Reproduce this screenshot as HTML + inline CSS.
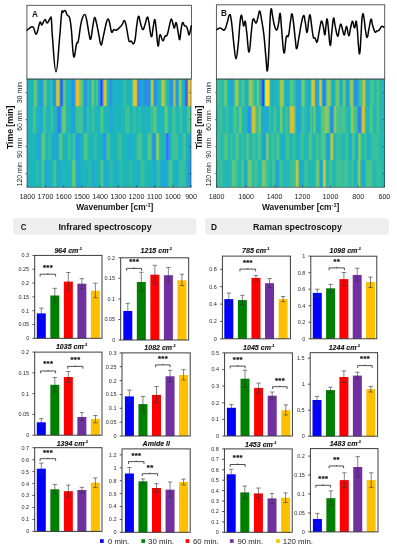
<!DOCTYPE html>
<html lang="en"><head><meta charset="utf-8"><title>Figure</title>
<style>
html,body{margin:0;padding:0;background:#fff;}
body{width:397px;height:550px;overflow:hidden;}
svg{display:block;font-family:'Liberation Sans', sans-serif;}
</style></head>
<body>
<svg width="397" height="550" viewBox="0 0 397 550">
<defs>
<linearGradient id="ga0" gradientUnits="userSpaceOnUse" x1="27" y1="0" x2="191" y2="0"><stop offset="0.0000" stop-color="#1cb6bc"/><stop offset="0.0091" stop-color="#1cb6bc"/><stop offset="0.0183" stop-color="#1cb6bc"/><stop offset="0.0274" stop-color="#1cb6bc"/><stop offset="0.0351" stop-color="#1eb7ba"/><stop offset="0.0381" stop-color="#24b9b1"/><stop offset="0.0457" stop-color="#5fc67d"/><stop offset="0.0488" stop-color="#6ec771"/><stop offset="0.0534" stop-color="#6ec771"/><stop offset="0.0564" stop-color="#5fc67d"/><stop offset="0.0640" stop-color="#24b9b2"/><stop offset="0.0701" stop-color="#1db0c8"/><stop offset="0.0762" stop-color="#259ddf"/><stop offset="0.0808" stop-color="#2898e4"/><stop offset="0.0899" stop-color="#2799e3"/><stop offset="0.0930" stop-color="#259ede"/><stop offset="0.0945" stop-color="#23a3d9"/><stop offset="0.0976" stop-color="#1db0c7"/><stop offset="0.1021" stop-color="#3cc198"/><stop offset="0.1037" stop-color="#4dc58a"/><stop offset="0.1067" stop-color="#68c776"/><stop offset="0.1113" stop-color="#71c770"/><stop offset="0.1143" stop-color="#69c775"/><stop offset="0.1174" stop-color="#50c688"/><stop offset="0.1220" stop-color="#2abca9"/><stop offset="0.1250" stop-color="#20b8b7"/><stop offset="0.1341" stop-color="#1cb6bc"/><stop offset="0.1402" stop-color="#1fb7b8"/><stop offset="0.1479" stop-color="#39c09a"/><stop offset="0.1494" stop-color="#3dc197"/><stop offset="0.1509" stop-color="#3ac099"/><stop offset="0.1524" stop-color="#30bea2"/><stop offset="0.1540" stop-color="#25bab0"/><stop offset="0.1585" stop-color="#24a0dc"/><stop offset="0.1601" stop-color="#2997e5"/><stop offset="0.1616" stop-color="#2c8fe8"/><stop offset="0.1646" stop-color="#2f89eb"/><stop offset="0.1692" stop-color="#2f8beb"/><stop offset="0.1707" stop-color="#2d8ee9"/><stop offset="0.1723" stop-color="#2996e5"/><stop offset="0.1738" stop-color="#24a0dc"/><stop offset="0.1753" stop-color="#1eaecc"/><stop offset="0.1768" stop-color="#26baae"/><stop offset="0.1799" stop-color="#9ac753"/><stop offset="0.1814" stop-color="#cac23a"/><stop offset="0.1829" stop-color="#e1bc33"/><stop offset="0.1845" stop-color="#f0b82f"/><stop offset="0.1860" stop-color="#f4bb2e"/><stop offset="0.1875" stop-color="#f4bd2e"/><stop offset="0.1890" stop-color="#f4bc2e"/><stop offset="0.1905" stop-color="#f1b82e"/><stop offset="0.1921" stop-color="#e4bb32"/><stop offset="0.1936" stop-color="#cfc038"/><stop offset="0.1951" stop-color="#aac54a"/><stop offset="0.2027" stop-color="#2899e3"/><stop offset="0.2043" stop-color="#3284ee"/><stop offset="0.2058" stop-color="#3b6ff2"/><stop offset="0.2073" stop-color="#405cee"/><stop offset="0.2088" stop-color="#4450eb"/><stop offset="0.2104" stop-color="#454be9"/><stop offset="0.2119" stop-color="#454dea"/><stop offset="0.2134" stop-color="#4256ec"/><stop offset="0.2149" stop-color="#3d67f0"/><stop offset="0.2165" stop-color="#357ff1"/><stop offset="0.2210" stop-color="#22b9b4"/><stop offset="0.2226" stop-color="#3bc199"/><stop offset="0.2241" stop-color="#51c686"/><stop offset="0.2256" stop-color="#63c77a"/><stop offset="0.2271" stop-color="#69c775"/><stop offset="0.2287" stop-color="#67c777"/><stop offset="0.2317" stop-color="#50c688"/><stop offset="0.2363" stop-color="#2abca9"/><stop offset="0.2393" stop-color="#20b8b7"/><stop offset="0.2485" stop-color="#1cb6bc"/><stop offset="0.2576" stop-color="#1cb6bc"/><stop offset="0.2652" stop-color="#1cb5be"/><stop offset="0.2683" stop-color="#1db1c6"/><stop offset="0.2744" stop-color="#2898e4"/><stop offset="0.2774" stop-color="#2e8dea"/><stop offset="0.2820" stop-color="#3089ec"/><stop offset="0.2851" stop-color="#2e8dea"/><stop offset="0.2866" stop-color="#2b92e7"/><stop offset="0.2881" stop-color="#2899e3"/><stop offset="0.2912" stop-color="#1fabd1"/><stop offset="0.2942" stop-color="#27bbad"/><stop offset="0.3003" stop-color="#d0c038"/><stop offset="0.3018" stop-color="#e4bb32"/><stop offset="0.3034" stop-color="#f1b82e"/><stop offset="0.3049" stop-color="#f4bc2e"/><stop offset="0.3079" stop-color="#f5be2d"/><stop offset="0.3110" stop-color="#f3bb2e"/><stop offset="0.3125" stop-color="#eeb92f"/><stop offset="0.3140" stop-color="#e2bc33"/><stop offset="0.3186" stop-color="#a6c64c"/><stop offset="0.3201" stop-color="#93c857"/><stop offset="0.3216" stop-color="#83c762"/><stop offset="0.3308" stop-color="#71c76f"/><stop offset="0.3338" stop-color="#69c775"/><stop offset="0.3369" stop-color="#50c688"/><stop offset="0.3460" stop-color="#1db0c9"/><stop offset="0.3506" stop-color="#259ede"/><stop offset="0.3537" stop-color="#2996e5"/><stop offset="0.3582" stop-color="#2b92e7"/><stop offset="0.3613" stop-color="#2a95e6"/><stop offset="0.3628" stop-color="#2898e4"/><stop offset="0.3643" stop-color="#259ddf"/><stop offset="0.3659" stop-color="#21a5d7"/><stop offset="0.3704" stop-color="#26baaf"/><stop offset="0.3720" stop-color="#2ebda5"/><stop offset="0.3735" stop-color="#30bea2"/><stop offset="0.3750" stop-color="#2cbda7"/><stop offset="0.3811" stop-color="#1eaecc"/><stop offset="0.3826" stop-color="#1eacd0"/><stop offset="0.3841" stop-color="#1fabd1"/><stop offset="0.3857" stop-color="#1eacd0"/><stop offset="0.3872" stop-color="#1eaecb"/><stop offset="0.3902" stop-color="#1fb7b8"/><stop offset="0.3948" stop-color="#4dc58a"/><stop offset="0.3963" stop-color="#5cc67e"/><stop offset="0.3994" stop-color="#6ec771"/><stop offset="0.4040" stop-color="#6ec771"/><stop offset="0.4070" stop-color="#5fc67d"/><stop offset="0.4131" stop-color="#2bbca9"/><stop offset="0.4146" stop-color="#25bab0"/><stop offset="0.4162" stop-color="#22b8b4"/><stop offset="0.4177" stop-color="#22b8b4"/><stop offset="0.4192" stop-color="#25bab0"/><stop offset="0.4253" stop-color="#4ec58a"/><stop offset="0.4268" stop-color="#55c684"/><stop offset="0.4284" stop-color="#52c686"/><stop offset="0.4299" stop-color="#47c38f"/><stop offset="0.4314" stop-color="#32bea1"/><stop offset="0.4360" stop-color="#22a4d8"/><stop offset="0.4375" stop-color="#279ae2"/><stop offset="0.4390" stop-color="#2a94e6"/><stop offset="0.4436" stop-color="#2d8de9"/><stop offset="0.4451" stop-color="#3187ed"/><stop offset="0.4466" stop-color="#367cf2"/><stop offset="0.4497" stop-color="#4255ec"/><stop offset="0.4512" stop-color="#4345df"/><stop offset="0.4527" stop-color="#413cd2"/><stop offset="0.4543" stop-color="#4039ce"/><stop offset="0.4558" stop-color="#413dd3"/><stop offset="0.4573" stop-color="#4447e3"/><stop offset="0.4588" stop-color="#405cee"/><stop offset="0.4604" stop-color="#3878f4"/><stop offset="0.4695" stop-color="#a9c64b"/><stop offset="0.4710" stop-color="#cfc038"/><stop offset="0.4726" stop-color="#e4bb32"/><stop offset="0.4741" stop-color="#f1b82e"/><stop offset="0.4756" stop-color="#f3bb2e"/><stop offset="0.4771" stop-color="#f3bb2e"/><stop offset="0.4787" stop-color="#f1b82e"/><stop offset="0.4802" stop-color="#e4bb32"/><stop offset="0.4817" stop-color="#d0c038"/><stop offset="0.4863" stop-color="#4dc58a"/><stop offset="0.4878" stop-color="#32bea0"/><stop offset="0.4893" stop-color="#27baae"/><stop offset="0.4909" stop-color="#21b8b6"/><stop offset="0.4970" stop-color="#1cb4c0"/><stop offset="0.5000" stop-color="#1dafca"/><stop offset="0.5046" stop-color="#259ede"/><stop offset="0.5076" stop-color="#2996e5"/><stop offset="0.5122" stop-color="#2b92e7"/><stop offset="0.5152" stop-color="#2996e5"/><stop offset="0.5183" stop-color="#259ede"/><stop offset="0.5229" stop-color="#1dafca"/><stop offset="0.5259" stop-color="#1cb4c0"/><stop offset="0.5351" stop-color="#1cb6bc"/><stop offset="0.5442" stop-color="#1cb6bc"/><stop offset="0.5503" stop-color="#1cb4c1"/><stop offset="0.5579" stop-color="#20a9d3"/><stop offset="0.5610" stop-color="#20a9d3"/><stop offset="0.5686" stop-color="#1cb4c1"/><stop offset="0.5777" stop-color="#1cb6bc"/><stop offset="0.5854" stop-color="#1fb7b8"/><stop offset="0.5930" stop-color="#39c09a"/><stop offset="0.5960" stop-color="#3ec197"/><stop offset="0.6037" stop-color="#22b8b5"/><stop offset="0.6128" stop-color="#1cb6bc"/><stop offset="0.6220" stop-color="#1cb6bc"/><stop offset="0.6311" stop-color="#1cb6bc"/><stop offset="0.6372" stop-color="#1eb7ba"/><stop offset="0.6387" stop-color="#21b8b6"/><stop offset="0.6402" stop-color="#27baae"/><stop offset="0.6418" stop-color="#32bea0"/><stop offset="0.6433" stop-color="#4dc58a"/><stop offset="0.6479" stop-color="#d0c038"/><stop offset="0.6494" stop-color="#e4bb32"/><stop offset="0.6509" stop-color="#f1b82e"/><stop offset="0.6524" stop-color="#f4bc2e"/><stop offset="0.6601" stop-color="#f5bf2d"/><stop offset="0.6631" stop-color="#f4bb2e"/><stop offset="0.6646" stop-color="#efb92f"/><stop offset="0.6662" stop-color="#e0bc33"/><stop offset="0.6677" stop-color="#c9c23a"/><stop offset="0.6692" stop-color="#99c753"/><stop offset="0.6723" stop-color="#27baae"/><stop offset="0.6738" stop-color="#1eaecb"/><stop offset="0.6753" stop-color="#24a1db"/><stop offset="0.6768" stop-color="#2897e4"/><stop offset="0.6784" stop-color="#2c90e8"/><stop offset="0.6829" stop-color="#2e8bea"/><stop offset="0.6890" stop-color="#2c90e8"/><stop offset="0.6966" stop-color="#23a1db"/><stop offset="0.7043" stop-color="#22a4d8"/><stop offset="0.7088" stop-color="#249fdd"/><stop offset="0.7149" stop-color="#2b92e7"/><stop offset="0.7241" stop-color="#2d8ee9"/><stop offset="0.7332" stop-color="#2d8ee9"/><stop offset="0.7424" stop-color="#2d8fe9"/><stop offset="0.7454" stop-color="#2c91e8"/><stop offset="0.7470" stop-color="#2a94e6"/><stop offset="0.7485" stop-color="#279ae2"/><stop offset="0.7500" stop-color="#23a2da"/><stop offset="0.7515" stop-color="#1eadce"/><stop offset="0.7561" stop-color="#67c777"/><stop offset="0.7576" stop-color="#95c855"/><stop offset="0.7591" stop-color="#b0c547"/><stop offset="0.7607" stop-color="#c1c33e"/><stop offset="0.7622" stop-color="#c8c23a"/><stop offset="0.7637" stop-color="#c8c23a"/><stop offset="0.7652" stop-color="#c1c33e"/><stop offset="0.7668" stop-color="#b0c547"/><stop offset="0.7683" stop-color="#94c856"/><stop offset="0.7698" stop-color="#64c779"/><stop offset="0.7744" stop-color="#1fabd1"/><stop offset="0.7759" stop-color="#259ede"/><stop offset="0.7774" stop-color="#2a95e6"/><stop offset="0.7790" stop-color="#2d8ee9"/><stop offset="0.7820" stop-color="#2f89eb"/><stop offset="0.7851" stop-color="#2f8aeb"/><stop offset="0.7881" stop-color="#2b91e7"/><stop offset="0.7942" stop-color="#1eadcd"/><stop offset="0.7973" stop-color="#1cb4c1"/><stop offset="0.8064" stop-color="#1cb6bc"/><stop offset="0.8125" stop-color="#1fb7b8"/><stop offset="0.8140" stop-color="#24b9b2"/><stop offset="0.8155" stop-color="#2bbca8"/><stop offset="0.8171" stop-color="#3bc199"/><stop offset="0.8216" stop-color="#9ec751"/><stop offset="0.8232" stop-color="#b4c445"/><stop offset="0.8247" stop-color="#c3c33d"/><stop offset="0.8262" stop-color="#c9c23a"/><stop offset="0.8293" stop-color="#c9c23a"/><stop offset="0.8323" stop-color="#bac442"/><stop offset="0.8384" stop-color="#84c862"/><stop offset="0.8445" stop-color="#5fc67d"/><stop offset="0.8521" stop-color="#24b9b1"/><stop offset="0.8552" stop-color="#1eb7ba"/><stop offset="0.8643" stop-color="#1cb5be"/><stop offset="0.8674" stop-color="#1db1c6"/><stop offset="0.8735" stop-color="#2898e4"/><stop offset="0.8765" stop-color="#2e8dea"/><stop offset="0.8796" stop-color="#3089ec"/><stop offset="0.8826" stop-color="#2f8aeb"/><stop offset="0.8841" stop-color="#2d8ee9"/><stop offset="0.8857" stop-color="#2a94e6"/><stop offset="0.8872" stop-color="#259ede"/><stop offset="0.8887" stop-color="#1faad2"/><stop offset="0.8933" stop-color="#5ac680"/><stop offset="0.8948" stop-color="#88c85f"/><stop offset="0.8963" stop-color="#a4c64d"/><stop offset="0.8979" stop-color="#b3c445"/><stop offset="0.8994" stop-color="#b7c443"/><stop offset="0.9009" stop-color="#b0c547"/><stop offset="0.9024" stop-color="#9fc750"/><stop offset="0.9040" stop-color="#7cc768"/><stop offset="0.9055" stop-color="#4bc48c"/><stop offset="0.9085" stop-color="#1db0c8"/><stop offset="0.9101" stop-color="#22a3d9"/><stop offset="0.9116" stop-color="#2898e4"/><stop offset="0.9131" stop-color="#2c90e8"/><stop offset="0.9146" stop-color="#2e8cea"/><stop offset="0.9162" stop-color="#2e8bea"/><stop offset="0.9177" stop-color="#2d8ee9"/><stop offset="0.9192" stop-color="#2a94e6"/><stop offset="0.9207" stop-color="#269ddf"/><stop offset="0.9223" stop-color="#20a8d4"/><stop offset="0.9268" stop-color="#47c38f"/><stop offset="0.9284" stop-color="#6ac774"/><stop offset="0.9299" stop-color="#86c860"/><stop offset="0.9314" stop-color="#97c854"/><stop offset="0.9329" stop-color="#9dc751"/><stop offset="0.9345" stop-color="#9dc751"/><stop offset="0.9360" stop-color="#98c754"/><stop offset="0.9375" stop-color="#8cc85c"/><stop offset="0.9405" stop-color="#5bc680"/><stop offset="0.9436" stop-color="#31bea2"/><stop offset="0.9451" stop-color="#28bbad"/><stop offset="0.9482" stop-color="#1fb7b9"/><stop offset="0.9558" stop-color="#1cb4c0"/><stop offset="0.9573" stop-color="#1db2c4"/><stop offset="0.9588" stop-color="#1eaecd"/><stop offset="0.9604" stop-color="#21a5d7"/><stop offset="0.9649" stop-color="#377af3"/><stop offset="0.9665" stop-color="#3c6bf1"/><stop offset="0.9680" stop-color="#3f60ef"/><stop offset="0.9695" stop-color="#415aed"/><stop offset="0.9710" stop-color="#4159ed"/><stop offset="0.9726" stop-color="#415bed"/><stop offset="0.9741" stop-color="#3e62ef"/><stop offset="0.9756" stop-color="#3a72f3"/><stop offset="0.9771" stop-color="#3186ed"/><stop offset="0.9787" stop-color="#249fdd"/><stop offset="0.9802" stop-color="#1cb5bd"/><stop offset="0.9832" stop-color="#a7c64c"/><stop offset="0.9848" stop-color="#dbbd35"/><stop offset="0.9863" stop-color="#f4bc2e"/><stop offset="0.9878" stop-color="#f9c72d"/><stop offset="0.9893" stop-color="#fccd2c"/><stop offset="0.9924" stop-color="#fbd329"/><stop offset="1.0000" stop-color="#fbd329"/></linearGradient>
<linearGradient id="ga1" gradientUnits="userSpaceOnUse" x1="27" y1="0" x2="191" y2="0"><stop offset="0.0000" stop-color="#1cb6bc"/><stop offset="0.0091" stop-color="#1cb6bc"/><stop offset="0.0183" stop-color="#1cb6bc"/><stop offset="0.0274" stop-color="#1cb6bb"/><stop offset="0.0320" stop-color="#22b8b5"/><stop offset="0.0396" stop-color="#43c293"/><stop offset="0.0457" stop-color="#4bc48c"/><stop offset="0.0503" stop-color="#43c293"/><stop offset="0.0579" stop-color="#22b8b5"/><stop offset="0.0671" stop-color="#1cb5be"/><stop offset="0.0762" stop-color="#20a9d3"/><stop offset="0.0854" stop-color="#21a6d6"/><stop offset="0.0899" stop-color="#1faad2"/><stop offset="0.0930" stop-color="#1db1c7"/><stop offset="0.0991" stop-color="#38c09c"/><stop offset="0.1021" stop-color="#47c38f"/><stop offset="0.1082" stop-color="#4ac48c"/><stop offset="0.1113" stop-color="#43c293"/><stop offset="0.1189" stop-color="#22b8b5"/><stop offset="0.1280" stop-color="#1cb6bc"/><stop offset="0.1372" stop-color="#1cb6bb"/><stop offset="0.1418" stop-color="#22b8b5"/><stop offset="0.1494" stop-color="#42c293"/><stop offset="0.1524" stop-color="#45c390"/><stop offset="0.1555" stop-color="#3bc199"/><stop offset="0.1616" stop-color="#22b8b5"/><stop offset="0.1707" stop-color="#1cb6bc"/><stop offset="0.1768" stop-color="#1cb5bf"/><stop offset="0.1799" stop-color="#1db0c8"/><stop offset="0.1829" stop-color="#22a3d9"/><stop offset="0.1860" stop-color="#2c90e8"/><stop offset="0.1875" stop-color="#3087ec"/><stop offset="0.1905" stop-color="#357ef1"/><stop offset="0.1982" stop-color="#367df2"/><stop offset="0.2012" stop-color="#3382ef"/><stop offset="0.2027" stop-color="#3087ec"/><stop offset="0.2043" stop-color="#2c90e8"/><stop offset="0.2119" stop-color="#2cbda7"/><stop offset="0.2149" stop-color="#4ec589"/><stop offset="0.2180" stop-color="#69c776"/><stop offset="0.2271" stop-color="#72c76e"/><stop offset="0.2317" stop-color="#69c775"/><stop offset="0.2348" stop-color="#50c688"/><stop offset="0.2393" stop-color="#2abca9"/><stop offset="0.2424" stop-color="#20b8b7"/><stop offset="0.2515" stop-color="#1cb6bc"/><stop offset="0.2607" stop-color="#1cb5bd"/><stop offset="0.2652" stop-color="#1db1c5"/><stop offset="0.2713" stop-color="#22a5d7"/><stop offset="0.2805" stop-color="#24a1db"/><stop offset="0.2866" stop-color="#23a3d9"/><stop offset="0.2896" stop-color="#20a8d4"/><stop offset="0.2988" stop-color="#2cbca7"/><stop offset="0.3018" stop-color="#39c09b"/><stop offset="0.3110" stop-color="#41c294"/><stop offset="0.3201" stop-color="#41c294"/><stop offset="0.3293" stop-color="#41c294"/><stop offset="0.3354" stop-color="#3dc197"/><stop offset="0.3384" stop-color="#32bfa0"/><stop offset="0.3476" stop-color="#1eaccf"/><stop offset="0.3506" stop-color="#21a5d7"/><stop offset="0.3552" stop-color="#23a1db"/><stop offset="0.3582" stop-color="#23a3d9"/><stop offset="0.3613" stop-color="#1fa9d3"/><stop offset="0.3643" stop-color="#1cb4c1"/><stop offset="0.3674" stop-color="#2dbda6"/><stop offset="0.3689" stop-color="#39c09b"/><stop offset="0.3704" stop-color="#41c294"/><stop offset="0.3720" stop-color="#43c392"/><stop offset="0.3750" stop-color="#3bc199"/><stop offset="0.3811" stop-color="#22b8b5"/><stop offset="0.3857" stop-color="#1db7ba"/><stop offset="0.3902" stop-color="#24b9b1"/><stop offset="0.3963" stop-color="#39c09b"/><stop offset="0.4040" stop-color="#3fc295"/><stop offset="0.4085" stop-color="#33bf9f"/><stop offset="0.4146" stop-color="#21b8b6"/><stop offset="0.4238" stop-color="#1cb6bc"/><stop offset="0.4329" stop-color="#1cb6bc"/><stop offset="0.4405" stop-color="#1db7ba"/><stop offset="0.4436" stop-color="#23b9b3"/><stop offset="0.4512" stop-color="#4cc58b"/><stop offset="0.4558" stop-color="#58c681"/><stop offset="0.4604" stop-color="#52c686"/><stop offset="0.4634" stop-color="#44c392"/><stop offset="0.4695" stop-color="#23b9b3"/><stop offset="0.4787" stop-color="#1cb6bc"/><stop offset="0.4878" stop-color="#1cb6bc"/><stop offset="0.4970" stop-color="#1cb6bc"/><stop offset="0.5015" stop-color="#1cb4c0"/><stop offset="0.5091" stop-color="#20a9d3"/><stop offset="0.5137" stop-color="#21a7d5"/><stop offset="0.5183" stop-color="#1eabd1"/><stop offset="0.5244" stop-color="#1cb4c0"/><stop offset="0.5335" stop-color="#1cb6bc"/><stop offset="0.5427" stop-color="#1cb6bc"/><stop offset="0.5518" stop-color="#1cb6bc"/><stop offset="0.5610" stop-color="#1cb6bc"/><stop offset="0.5701" stop-color="#1cb6bc"/><stop offset="0.5793" stop-color="#1cb6bc"/><stop offset="0.5884" stop-color="#1cb6bc"/><stop offset="0.5930" stop-color="#21b8b6"/><stop offset="0.6006" stop-color="#39c09b"/><stop offset="0.6098" stop-color="#41c294"/><stop offset="0.6189" stop-color="#40c295"/><stop offset="0.6235" stop-color="#39c09b"/><stop offset="0.6311" stop-color="#21b8b6"/><stop offset="0.6387" stop-color="#1db6bb"/><stop offset="0.6433" stop-color="#23b9b3"/><stop offset="0.6494" stop-color="#34bf9e"/><stop offset="0.6570" stop-color="#3ac09a"/><stop offset="0.6616" stop-color="#2fbea3"/><stop offset="0.6677" stop-color="#20b8b7"/><stop offset="0.6753" stop-color="#1db6bb"/><stop offset="0.6799" stop-color="#23b9b3"/><stop offset="0.6845" stop-color="#2fbda4"/><stop offset="0.6875" stop-color="#31bea1"/><stop offset="0.6966" stop-color="#1eb7b9"/><stop offset="0.7058" stop-color="#1cb6bc"/><stop offset="0.7149" stop-color="#1cb6bc"/><stop offset="0.7241" stop-color="#1cb6bc"/><stop offset="0.7332" stop-color="#1cb6bc"/><stop offset="0.7424" stop-color="#1cb6bc"/><stop offset="0.7500" stop-color="#1eb7b9"/><stop offset="0.7591" stop-color="#39c09b"/><stop offset="0.7652" stop-color="#3ec196"/><stop offset="0.7698" stop-color="#3ac09a"/><stop offset="0.7729" stop-color="#42c293"/><stop offset="0.7774" stop-color="#61c67b"/><stop offset="0.7805" stop-color="#6dc772"/><stop offset="0.7835" stop-color="#68c776"/><stop offset="0.7866" stop-color="#50c688"/><stop offset="0.7912" stop-color="#2abca9"/><stop offset="0.7942" stop-color="#20b8b7"/><stop offset="0.8034" stop-color="#1cb6bc"/><stop offset="0.8125" stop-color="#1cb6bc"/><stop offset="0.8216" stop-color="#1cb6bc"/><stop offset="0.8308" stop-color="#1db6bb"/><stop offset="0.8338" stop-color="#20b8b7"/><stop offset="0.8369" stop-color="#2abca9"/><stop offset="0.8415" stop-color="#50c688"/><stop offset="0.8445" stop-color="#69c775"/><stop offset="0.8491" stop-color="#71c770"/><stop offset="0.8521" stop-color="#69c775"/><stop offset="0.8552" stop-color="#50c688"/><stop offset="0.8598" stop-color="#2abca9"/><stop offset="0.8628" stop-color="#20b8b7"/><stop offset="0.8720" stop-color="#1cb6bc"/><stop offset="0.8811" stop-color="#1fb7b8"/><stop offset="0.8902" stop-color="#43c293"/><stop offset="0.8963" stop-color="#4bc48c"/><stop offset="0.9009" stop-color="#43c293"/><stop offset="0.9085" stop-color="#22b8b5"/><stop offset="0.9177" stop-color="#1cb6bc"/><stop offset="0.9268" stop-color="#1fb7b8"/><stop offset="0.9360" stop-color="#42c293"/><stop offset="0.9390" stop-color="#45c390"/><stop offset="0.9421" stop-color="#3bc199"/><stop offset="0.9482" stop-color="#22b8b5"/><stop offset="0.9573" stop-color="#1cb6bc"/><stop offset="0.9665" stop-color="#1cb6bc"/><stop offset="0.9726" stop-color="#1fb7b8"/><stop offset="0.9756" stop-color="#28bbad"/><stop offset="0.9817" stop-color="#4cc58b"/><stop offset="0.9863" stop-color="#58c681"/><stop offset="0.9909" stop-color="#52c686"/><stop offset="0.9939" stop-color="#44c392"/><stop offset="1.0000" stop-color="#23b9b3"/></linearGradient>
<linearGradient id="ga2" gradientUnits="userSpaceOnUse" x1="27" y1="0" x2="191" y2="0"><stop offset="0.0000" stop-color="#1cb6bc"/><stop offset="0.0091" stop-color="#1cb6bc"/><stop offset="0.0183" stop-color="#1cb6bc"/><stop offset="0.0274" stop-color="#1cb6bc"/><stop offset="0.0366" stop-color="#1cb6bc"/><stop offset="0.0457" stop-color="#1cb6bc"/><stop offset="0.0549" stop-color="#1cb5be"/><stop offset="0.0640" stop-color="#21a7d5"/><stop offset="0.0732" stop-color="#22a3d9"/><stop offset="0.0793" stop-color="#21a7d5"/><stop offset="0.0838" stop-color="#1db0c7"/><stop offset="0.0930" stop-color="#50c588"/><stop offset="0.0960" stop-color="#69c775"/><stop offset="0.1006" stop-color="#71c770"/><stop offset="0.1037" stop-color="#69c775"/><stop offset="0.1067" stop-color="#50c688"/><stop offset="0.1113" stop-color="#2abca9"/><stop offset="0.1143" stop-color="#20b8b7"/><stop offset="0.1235" stop-color="#1cb6bc"/><stop offset="0.1296" stop-color="#20b8b7"/><stop offset="0.1372" stop-color="#34bf9f"/><stop offset="0.1402" stop-color="#36bf9d"/><stop offset="0.1433" stop-color="#2fbea3"/><stop offset="0.1524" stop-color="#1eaecc"/><stop offset="0.1570" stop-color="#20a7d5"/><stop offset="0.1662" stop-color="#21a6d6"/><stop offset="0.1753" stop-color="#21a6d6"/><stop offset="0.1829" stop-color="#20a7d5"/><stop offset="0.1921" stop-color="#1cb6bd"/><stop offset="0.2012" stop-color="#51c687"/><stop offset="0.2058" stop-color="#61c67b"/><stop offset="0.2104" stop-color="#5ac681"/><stop offset="0.2134" stop-color="#48c48e"/><stop offset="0.2195" stop-color="#23b9b3"/><stop offset="0.2241" stop-color="#1db6bb"/><stop offset="0.2332" stop-color="#1cb6bc"/><stop offset="0.2424" stop-color="#1cb6bc"/><stop offset="0.2470" stop-color="#1fb7b8"/><stop offset="0.2561" stop-color="#42c293"/><stop offset="0.2591" stop-color="#45c390"/><stop offset="0.2622" stop-color="#3bc199"/><stop offset="0.2683" stop-color="#22b8b5"/><stop offset="0.2713" stop-color="#1eb7ba"/><stop offset="0.2744" stop-color="#1fb7b8"/><stop offset="0.2835" stop-color="#42c293"/><stop offset="0.2866" stop-color="#45c390"/><stop offset="0.2896" stop-color="#3ac09a"/><stop offset="0.2988" stop-color="#1faad2"/><stop offset="0.3018" stop-color="#23a1db"/><stop offset="0.3110" stop-color="#269ce0"/><stop offset="0.3201" stop-color="#259fdd"/><stop offset="0.3232" stop-color="#22a4d8"/><stop offset="0.3293" stop-color="#1db3c2"/><stop offset="0.3384" stop-color="#1db6bb"/><stop offset="0.3430" stop-color="#23b9b3"/><stop offset="0.3506" stop-color="#4cc58b"/><stop offset="0.3598" stop-color="#5ac680"/><stop offset="0.3643" stop-color="#52c686"/><stop offset="0.3674" stop-color="#44c392"/><stop offset="0.3735" stop-color="#23b9b3"/><stop offset="0.3826" stop-color="#1cb6bc"/><stop offset="0.3918" stop-color="#1cb6bc"/><stop offset="0.4009" stop-color="#1cb6bc"/><stop offset="0.4070" stop-color="#20b7b7"/><stop offset="0.4162" stop-color="#32bea0"/><stop offset="0.4207" stop-color="#30bea2"/><stop offset="0.4299" stop-color="#1eb7ba"/><stop offset="0.4390" stop-color="#1cb6bc"/><stop offset="0.4482" stop-color="#1cb6bc"/><stop offset="0.4558" stop-color="#1cb4bf"/><stop offset="0.4588" stop-color="#1db0c8"/><stop offset="0.4649" stop-color="#259fdd"/><stop offset="0.4695" stop-color="#279ae2"/><stop offset="0.4756" stop-color="#269ce0"/><stop offset="0.4787" stop-color="#22a3d9"/><stop offset="0.4878" stop-color="#30bea2"/><stop offset="0.4909" stop-color="#42c293"/><stop offset="0.4970" stop-color="#4bc48c"/><stop offset="0.5015" stop-color="#43c293"/><stop offset="0.5091" stop-color="#22b8b5"/><stop offset="0.5183" stop-color="#1cb6bc"/><stop offset="0.5274" stop-color="#1cb6bc"/><stop offset="0.5366" stop-color="#1cb6bc"/><stop offset="0.5457" stop-color="#1cb6bc"/><stop offset="0.5503" stop-color="#21b8b6"/><stop offset="0.5579" stop-color="#39c09b"/><stop offset="0.5671" stop-color="#41c294"/><stop offset="0.5732" stop-color="#39c09b"/><stop offset="0.5808" stop-color="#21b8b6"/><stop offset="0.5899" stop-color="#1cb6bc"/><stop offset="0.5991" stop-color="#1cb6bc"/><stop offset="0.6082" stop-color="#1cb6bc"/><stop offset="0.6143" stop-color="#1cb4c0"/><stop offset="0.6235" stop-color="#1fa9d3"/><stop offset="0.6326" stop-color="#20a9d3"/><stop offset="0.6418" stop-color="#1db3c3"/><stop offset="0.6509" stop-color="#1cb6bc"/><stop offset="0.6601" stop-color="#1cb6bc"/><stop offset="0.6646" stop-color="#21b8b6"/><stop offset="0.6723" stop-color="#39c09a"/><stop offset="0.6814" stop-color="#46c390"/><stop offset="0.6905" stop-color="#4cc58b"/><stop offset="0.6951" stop-color="#48c48f"/><stop offset="0.7043" stop-color="#22b8b5"/><stop offset="0.7134" stop-color="#1cb6bc"/><stop offset="0.7226" stop-color="#1cb6bc"/><stop offset="0.7287" stop-color="#1fb7b8"/><stop offset="0.7317" stop-color="#28bbad"/><stop offset="0.7378" stop-color="#4cc58b"/><stop offset="0.7470" stop-color="#5ac680"/><stop offset="0.7546" stop-color="#56c683"/><stop offset="0.7576" stop-color="#49c48e"/><stop offset="0.7591" stop-color="#3cc198"/><stop offset="0.7607" stop-color="#2cbca7"/><stop offset="0.7652" stop-color="#21a6d6"/><stop offset="0.7668" stop-color="#269ddf"/><stop offset="0.7683" stop-color="#2995e5"/><stop offset="0.7713" stop-color="#2d8de9"/><stop offset="0.7774" stop-color="#2d8de9"/><stop offset="0.7805" stop-color="#2995e5"/><stop offset="0.7820" stop-color="#269ce0"/><stop offset="0.7835" stop-color="#21a6d6"/><stop offset="0.7866" stop-color="#23b9b3"/><stop offset="0.7896" stop-color="#5ec67e"/><stop offset="0.7912" stop-color="#83c762"/><stop offset="0.7927" stop-color="#9cc751"/><stop offset="0.7942" stop-color="#aac54a"/><stop offset="0.7957" stop-color="#b0c547"/><stop offset="0.7973" stop-color="#b0c547"/><stop offset="0.7988" stop-color="#aac54a"/><stop offset="0.8003" stop-color="#9ec751"/><stop offset="0.8018" stop-color="#89c85e"/><stop offset="0.8064" stop-color="#38c09c"/><stop offset="0.8079" stop-color="#2bbca8"/><stop offset="0.8095" stop-color="#25bab0"/><stop offset="0.8186" stop-color="#1fb7b8"/><stop offset="0.8277" stop-color="#1fb7b8"/><stop offset="0.8369" stop-color="#1fb7b8"/><stop offset="0.8399" stop-color="#1cb6bc"/><stop offset="0.8415" stop-color="#1cb4c1"/><stop offset="0.8430" stop-color="#1db0c8"/><stop offset="0.8445" stop-color="#1fa9d3"/><stop offset="0.8491" stop-color="#3285ee"/><stop offset="0.8506" stop-color="#377af3"/><stop offset="0.8521" stop-color="#3a72f3"/><stop offset="0.8552" stop-color="#3c6af1"/><stop offset="0.8582" stop-color="#3b6df1"/><stop offset="0.8598" stop-color="#3a72f3"/><stop offset="0.8613" stop-color="#377af3"/><stop offset="0.8628" stop-color="#3285ee"/><stop offset="0.8674" stop-color="#20a8d4"/><stop offset="0.8689" stop-color="#1dafca"/><stop offset="0.8704" stop-color="#1db2c3"/><stop offset="0.8796" stop-color="#21b8b6"/><stop offset="0.8872" stop-color="#39c09b"/><stop offset="0.8963" stop-color="#41c294"/><stop offset="0.9055" stop-color="#41c294"/><stop offset="0.9146" stop-color="#3dc197"/><stop offset="0.9238" stop-color="#21b8b6"/><stop offset="0.9329" stop-color="#1cb6bc"/><stop offset="0.9421" stop-color="#1cb6bb"/><stop offset="0.9466" stop-color="#22b8b5"/><stop offset="0.9543" stop-color="#43c293"/><stop offset="0.9604" stop-color="#4bc48c"/><stop offset="0.9649" stop-color="#42c293"/><stop offset="0.9741" stop-color="#1db2c4"/><stop offset="0.9787" stop-color="#1eadcd"/><stop offset="0.9878" stop-color="#1eaccf"/><stop offset="0.9970" stop-color="#1eaccf"/><stop offset="1.0000" stop-color="#1eaccf"/></linearGradient>
<linearGradient id="ga3" gradientUnits="userSpaceOnUse" x1="27" y1="0" x2="191" y2="0"><stop offset="0.0000" stop-color="#1cb6bc"/><stop offset="0.0091" stop-color="#1cb6bc"/><stop offset="0.0183" stop-color="#1cb6bc"/><stop offset="0.0274" stop-color="#1cb6bc"/><stop offset="0.0366" stop-color="#1cb6bc"/><stop offset="0.0457" stop-color="#1cb6bc"/><stop offset="0.0549" stop-color="#1eb7b9"/><stop offset="0.0640" stop-color="#33bf9f"/><stop offset="0.0671" stop-color="#33bf9f"/><stop offset="0.0701" stop-color="#29bbab"/><stop offset="0.0747" stop-color="#1db2c5"/><stop offset="0.0777" stop-color="#1eadce"/><stop offset="0.0808" stop-color="#1eaccf"/><stop offset="0.0838" stop-color="#1db0c8"/><stop offset="0.0899" stop-color="#39c09a"/><stop offset="0.0930" stop-color="#4fc588"/><stop offset="0.0960" stop-color="#58c682"/><stop offset="0.0991" stop-color="#54c684"/><stop offset="0.1021" stop-color="#45c391"/><stop offset="0.1052" stop-color="#29bbab"/><stop offset="0.1082" stop-color="#1db1c5"/><stop offset="0.1098" stop-color="#1eadcd"/><stop offset="0.1128" stop-color="#20a7d5"/><stop offset="0.1220" stop-color="#21a6d6"/><stop offset="0.1296" stop-color="#20a9d3"/><stop offset="0.1372" stop-color="#1cb4c0"/><stop offset="0.1463" stop-color="#1cb6bc"/><stop offset="0.1555" stop-color="#1fb7b8"/><stop offset="0.1646" stop-color="#43c293"/><stop offset="0.1692" stop-color="#4bc48c"/><stop offset="0.1738" stop-color="#44c391"/><stop offset="0.1768" stop-color="#30bea2"/><stop offset="0.1814" stop-color="#1db2c5"/><stop offset="0.1845" stop-color="#1eacd0"/><stop offset="0.1936" stop-color="#20a8d4"/><stop offset="0.1997" stop-color="#1fabd1"/><stop offset="0.2088" stop-color="#1cb5be"/><stop offset="0.2180" stop-color="#1cb6bc"/><stop offset="0.2271" stop-color="#1cb6bc"/><stop offset="0.2363" stop-color="#1cb6bc"/><stop offset="0.2454" stop-color="#1cb6bc"/><stop offset="0.2546" stop-color="#1cb6bc"/><stop offset="0.2637" stop-color="#1cb6bc"/><stop offset="0.2698" stop-color="#1eb7b9"/><stop offset="0.2729" stop-color="#25bab0"/><stop offset="0.2805" stop-color="#6dc773"/><stop offset="0.2835" stop-color="#7ec766"/><stop offset="0.2881" stop-color="#7ec766"/><stop offset="0.2912" stop-color="#6ac774"/><stop offset="0.2927" stop-color="#56c683"/><stop offset="0.2988" stop-color="#1db2c3"/><stop offset="0.3003" stop-color="#1eaecc"/><stop offset="0.3034" stop-color="#20a8d4"/><stop offset="0.3125" stop-color="#21a6d6"/><stop offset="0.3216" stop-color="#20a7d5"/><stop offset="0.3308" stop-color="#1cb4c0"/><stop offset="0.3399" stop-color="#1cb6bc"/><stop offset="0.3491" stop-color="#1cb6bc"/><stop offset="0.3582" stop-color="#1cb6bc"/><stop offset="0.3674" stop-color="#1cb6bc"/><stop offset="0.3735" stop-color="#20b7b7"/><stop offset="0.3826" stop-color="#32bfa0"/><stop offset="0.3872" stop-color="#30bea2"/><stop offset="0.3902" stop-color="#27baae"/><stop offset="0.3963" stop-color="#1eaecb"/><stop offset="0.4009" stop-color="#1fabd1"/><stop offset="0.4101" stop-color="#1eadcf"/><stop offset="0.4192" stop-color="#1cb5be"/><stop offset="0.4284" stop-color="#1cb6bc"/><stop offset="0.4375" stop-color="#1cb6bc"/><stop offset="0.4421" stop-color="#1fb7b8"/><stop offset="0.4451" stop-color="#28bbad"/><stop offset="0.4512" stop-color="#4cc58b"/><stop offset="0.4558" stop-color="#58c681"/><stop offset="0.4604" stop-color="#51c686"/><stop offset="0.4634" stop-color="#41c294"/><stop offset="0.4695" stop-color="#1db3c2"/><stop offset="0.4726" stop-color="#1eadcd"/><stop offset="0.4817" stop-color="#1faad2"/><stop offset="0.4893" stop-color="#1eadcf"/><stop offset="0.4985" stop-color="#1cb5bd"/><stop offset="0.5076" stop-color="#2abbaa"/><stop offset="0.5122" stop-color="#32bea0"/><stop offset="0.5168" stop-color="#30bea2"/><stop offset="0.5259" stop-color="#1eb7ba"/><stop offset="0.5335" stop-color="#1db3c2"/><stop offset="0.5412" stop-color="#1eacd0"/><stop offset="0.5488" stop-color="#1eacd0"/><stop offset="0.5579" stop-color="#1cb4bf"/><stop offset="0.5671" stop-color="#2abbaa"/><stop offset="0.5716" stop-color="#32bfa0"/><stop offset="0.5777" stop-color="#30bea2"/><stop offset="0.5869" stop-color="#1eb7ba"/><stop offset="0.5960" stop-color="#1cb6bc"/><stop offset="0.6052" stop-color="#1cb6bc"/><stop offset="0.6143" stop-color="#1cb6bc"/><stop offset="0.6235" stop-color="#20b7b7"/><stop offset="0.6311" stop-color="#2fbea3"/><stop offset="0.6357" stop-color="#2fbea3"/><stop offset="0.6448" stop-color="#1eb7ba"/><stop offset="0.6540" stop-color="#1cb6bc"/><stop offset="0.6631" stop-color="#1cb5bd"/><stop offset="0.6723" stop-color="#1eaecc"/><stop offset="0.6784" stop-color="#1eaecc"/><stop offset="0.6875" stop-color="#1fb7b9"/><stop offset="0.6951" stop-color="#34bf9e"/><stop offset="0.7043" stop-color="#3bc199"/><stop offset="0.7134" stop-color="#38c09c"/><stop offset="0.7226" stop-color="#20b8b7"/><stop offset="0.7317" stop-color="#1cb6bc"/><stop offset="0.7409" stop-color="#1cb6bc"/><stop offset="0.7500" stop-color="#1cb6bc"/><stop offset="0.7591" stop-color="#1cb6bc"/><stop offset="0.7683" stop-color="#1cb5be"/><stop offset="0.7774" stop-color="#1fabd1"/><stop offset="0.7820" stop-color="#20a9d3"/><stop offset="0.7851" stop-color="#1eacd0"/><stop offset="0.7881" stop-color="#1db1c7"/><stop offset="0.7942" stop-color="#2dbda5"/><stop offset="0.7973" stop-color="#37c09c"/><stop offset="0.8034" stop-color="#38c09b"/><stop offset="0.8064" stop-color="#2fbda4"/><stop offset="0.8140" stop-color="#1eadcd"/><stop offset="0.8171" stop-color="#1fa9d3"/><stop offset="0.8262" stop-color="#20a8d4"/><stop offset="0.8354" stop-color="#20a8d4"/><stop offset="0.8445" stop-color="#20a8d4"/><stop offset="0.8521" stop-color="#1faad2"/><stop offset="0.8552" stop-color="#1eadcd"/><stop offset="0.8643" stop-color="#3ac09a"/><stop offset="0.8674" stop-color="#47c38f"/><stop offset="0.8765" stop-color="#4cc58b"/><stop offset="0.8811" stop-color="#48c48f"/><stop offset="0.8902" stop-color="#22b8b5"/><stop offset="0.8994" stop-color="#1db3c2"/><stop offset="0.9070" stop-color="#1eacd0"/><stop offset="0.9146" stop-color="#1eacd0"/><stop offset="0.9177" stop-color="#1dafca"/><stop offset="0.9253" stop-color="#2bbca8"/><stop offset="0.9299" stop-color="#34bf9f"/><stop offset="0.9390" stop-color="#36bf9d"/><stop offset="0.9482" stop-color="#36bf9d"/><stop offset="0.9573" stop-color="#36bf9d"/><stop offset="0.9649" stop-color="#2fbea3"/><stop offset="0.9680" stop-color="#27baae"/><stop offset="0.9756" stop-color="#21a7d5"/><stop offset="0.9787" stop-color="#24a1db"/><stop offset="0.9878" stop-color="#259fdd"/><stop offset="0.9970" stop-color="#259fdd"/><stop offset="1.0000" stop-color="#259fdd"/></linearGradient>
<clipPath id="clipa"><rect x="27" y="79.2" width="164" height="108"/></clipPath>
<linearGradient id="gb0" gradientUnits="userSpaceOnUse" x1="216.5" y1="0" x2="384.6" y2="0"><stop offset="0.0000" stop-color="#36bf9d"/><stop offset="0.0089" stop-color="#36bf9d"/><stop offset="0.0178" stop-color="#36bf9d"/><stop offset="0.0268" stop-color="#35bf9e"/><stop offset="0.0312" stop-color="#2fbea3"/><stop offset="0.0372" stop-color="#22b8b4"/><stop offset="0.0387" stop-color="#21b8b5"/><stop offset="0.0402" stop-color="#24b9b2"/><stop offset="0.0431" stop-color="#34bf9f"/><stop offset="0.0461" stop-color="#53c685"/><stop offset="0.0491" stop-color="#70c770"/><stop offset="0.0535" stop-color="#79c76a"/><stop offset="0.0565" stop-color="#71c76f"/><stop offset="0.0595" stop-color="#59c681"/><stop offset="0.0640" stop-color="#2fbea3"/><stop offset="0.0669" stop-color="#25bab0"/><stop offset="0.0729" stop-color="#1cb6bd"/><stop offset="0.0803" stop-color="#21a6d6"/><stop offset="0.0892" stop-color="#23a2da"/><stop offset="0.0937" stop-color="#21a6d6"/><stop offset="0.1026" stop-color="#20b8b6"/><stop offset="0.1056" stop-color="#2cbca8"/><stop offset="0.1115" stop-color="#7dc767"/><stop offset="0.1130" stop-color="#91c858"/><stop offset="0.1160" stop-color="#a3c64e"/><stop offset="0.1234" stop-color="#a6c64c"/><stop offset="0.1264" stop-color="#9dc751"/><stop offset="0.1279" stop-color="#91c858"/><stop offset="0.1309" stop-color="#62c67a"/><stop offset="0.1338" stop-color="#38c09c"/><stop offset="0.1353" stop-color="#2cbca7"/><stop offset="0.1383" stop-color="#24b9b2"/><stop offset="0.1428" stop-color="#24b9b2"/><stop offset="0.1517" stop-color="#44c392"/><stop offset="0.1606" stop-color="#4bc48c"/><stop offset="0.1636" stop-color="#45c390"/><stop offset="0.1666" stop-color="#34bf9f"/><stop offset="0.1710" stop-color="#1cb5be"/><stop offset="0.1740" stop-color="#1db0c9"/><stop offset="0.1800" stop-color="#1eaecc"/><stop offset="0.1829" stop-color="#1db0c8"/><stop offset="0.1859" stop-color="#1cb5be"/><stop offset="0.1889" stop-color="#2ebda4"/><stop offset="0.1933" stop-color="#78c76a"/><stop offset="0.1948" stop-color="#8dc85b"/><stop offset="0.1978" stop-color="#a0c750"/><stop offset="0.2052" stop-color="#a0c750"/><stop offset="0.2142" stop-color="#6dc772"/><stop offset="0.2216" stop-color="#53c686"/><stop offset="0.2290" stop-color="#28bbad"/><stop offset="0.2320" stop-color="#23b9b3"/><stop offset="0.2350" stop-color="#26baaf"/><stop offset="0.2380" stop-color="#31bea1"/><stop offset="0.2424" stop-color="#64c779"/><stop offset="0.2439" stop-color="#74c76e"/><stop offset="0.2454" stop-color="#7cc768"/><stop offset="0.2469" stop-color="#7bc768"/><stop offset="0.2484" stop-color="#73c76e"/><stop offset="0.2513" stop-color="#4fc589"/><stop offset="0.2543" stop-color="#30bea3"/><stop offset="0.2573" stop-color="#24b9b2"/><stop offset="0.2632" stop-color="#1cb5bd"/><stop offset="0.2647" stop-color="#1db2c3"/><stop offset="0.2662" stop-color="#1eadce"/><stop offset="0.2677" stop-color="#23a1db"/><stop offset="0.2722" stop-color="#3f60ee"/><stop offset="0.2736" stop-color="#454be8"/><stop offset="0.2751" stop-color="#423fd7"/><stop offset="0.2766" stop-color="#413acf"/><stop offset="0.2781" stop-color="#413bd0"/><stop offset="0.2796" stop-color="#4241da"/><stop offset="0.2811" stop-color="#4352eb"/><stop offset="0.2826" stop-color="#3a71f2"/><stop offset="0.2841" stop-color="#2a93e6"/><stop offset="0.2855" stop-color="#1db1c6"/><stop offset="0.2885" stop-color="#acc549"/><stop offset="0.2900" stop-color="#e2bc32"/><stop offset="0.2915" stop-color="#f7c22d"/><stop offset="0.2930" stop-color="#fcce2b"/><stop offset="0.2945" stop-color="#fbd727"/><stop offset="0.2974" stop-color="#fadd24"/><stop offset="0.3064" stop-color="#fadd24"/><stop offset="0.3093" stop-color="#fbd827"/><stop offset="0.3108" stop-color="#fcd02a"/><stop offset="0.3123" stop-color="#f9c52d"/><stop offset="0.3138" stop-color="#f0b92f"/><stop offset="0.3183" stop-color="#60c67c"/><stop offset="0.3198" stop-color="#37c09c"/><stop offset="0.3212" stop-color="#25bab0"/><stop offset="0.3227" stop-color="#1cb6bc"/><stop offset="0.3257" stop-color="#1db2c4"/><stop offset="0.3346" stop-color="#1db1c6"/><stop offset="0.3435" stop-color="#1db2c4"/><stop offset="0.3525" stop-color="#20b8b7"/><stop offset="0.3614" stop-color="#21b8b6"/><stop offset="0.3703" stop-color="#24b9b2"/><stop offset="0.3733" stop-color="#2dbda6"/><stop offset="0.3763" stop-color="#4cc58b"/><stop offset="0.3792" stop-color="#83c763"/><stop offset="0.3807" stop-color="#97c854"/><stop offset="0.3837" stop-color="#a9c64b"/><stop offset="0.3926" stop-color="#acc549"/><stop offset="0.3956" stop-color="#a3c64e"/><stop offset="0.3971" stop-color="#97c854"/><stop offset="0.3986" stop-color="#82c763"/><stop offset="0.4045" stop-color="#26baaf"/><stop offset="0.4075" stop-color="#1db3c3"/><stop offset="0.4105" stop-color="#1eaecc"/><stop offset="0.4194" stop-color="#1eacd0"/><stop offset="0.4268" stop-color="#1eadcf"/><stop offset="0.4298" stop-color="#1db0c9"/><stop offset="0.4328" stop-color="#1eb7ba"/><stop offset="0.4372" stop-color="#44c392"/><stop offset="0.4402" stop-color="#58c681"/><stop offset="0.4462" stop-color="#5fc67c"/><stop offset="0.4551" stop-color="#45c390"/><stop offset="0.4640" stop-color="#3dc197"/><stop offset="0.4670" stop-color="#30bea2"/><stop offset="0.4744" stop-color="#1fa9d3"/><stop offset="0.4774" stop-color="#23a2da"/><stop offset="0.4863" stop-color="#249fdd"/><stop offset="0.4938" stop-color="#24a1db"/><stop offset="0.4967" stop-color="#22a5d7"/><stop offset="0.4997" stop-color="#1eaecb"/><stop offset="0.5057" stop-color="#44c392"/><stop offset="0.5086" stop-color="#66c777"/><stop offset="0.5116" stop-color="#77c76b"/><stop offset="0.5190" stop-color="#77c76b"/><stop offset="0.5220" stop-color="#67c776"/><stop offset="0.5294" stop-color="#29bbab"/><stop offset="0.5384" stop-color="#1cb5be"/><stop offset="0.5458" stop-color="#1eadce"/><stop offset="0.5532" stop-color="#1eadce"/><stop offset="0.5562" stop-color="#1db0c8"/><stop offset="0.5577" stop-color="#1db3c1"/><stop offset="0.5592" stop-color="#20b8b7"/><stop offset="0.5607" stop-color="#2dbda6"/><stop offset="0.5622" stop-color="#48c48e"/><stop offset="0.5666" stop-color="#c8c23a"/><stop offset="0.5681" stop-color="#dabe35"/><stop offset="0.5696" stop-color="#e6bb31"/><stop offset="0.5711" stop-color="#edb92f"/><stop offset="0.5756" stop-color="#f1b82e"/><stop offset="0.5785" stop-color="#ebba30"/><stop offset="0.5800" stop-color="#e2bc33"/><stop offset="0.5815" stop-color="#d2c037"/><stop offset="0.5830" stop-color="#b3c445"/><stop offset="0.5874" stop-color="#24b9b2"/><stop offset="0.5889" stop-color="#1db0c7"/><stop offset="0.5904" stop-color="#20a9d3"/><stop offset="0.5919" stop-color="#22a4d8"/><stop offset="0.6008" stop-color="#24a0dc"/><stop offset="0.6038" stop-color="#23a3d9"/><stop offset="0.6053" stop-color="#20a7d5"/><stop offset="0.6068" stop-color="#1eaecc"/><stop offset="0.6083" stop-color="#1cb5bd"/><stop offset="0.6098" stop-color="#2fbda4"/><stop offset="0.6127" stop-color="#91c858"/><stop offset="0.6142" stop-color="#b9c442"/><stop offset="0.6157" stop-color="#d1c037"/><stop offset="0.6172" stop-color="#ddbd34"/><stop offset="0.6187" stop-color="#e3bc32"/><stop offset="0.6202" stop-color="#e2bc32"/><stop offset="0.6217" stop-color="#dcbd34"/><stop offset="0.6231" stop-color="#cfc038"/><stop offset="0.6246" stop-color="#b2c446"/><stop offset="0.6261" stop-color="#80c765"/><stop offset="0.6306" stop-color="#20a7d5"/><stop offset="0.6321" stop-color="#2997e5"/><stop offset="0.6336" stop-color="#3088ec"/><stop offset="0.6350" stop-color="#3480f0"/><stop offset="0.6380" stop-color="#3779f3"/><stop offset="0.6425" stop-color="#377bf3"/><stop offset="0.6440" stop-color="#357ff1"/><stop offset="0.6454" stop-color="#3185ed"/><stop offset="0.6469" stop-color="#2c90e8"/><stop offset="0.6484" stop-color="#259ede"/><stop offset="0.6529" stop-color="#2fbea3"/><stop offset="0.6544" stop-color="#4bc48b"/><stop offset="0.6559" stop-color="#6ac775"/><stop offset="0.6573" stop-color="#81c764"/><stop offset="0.6603" stop-color="#96c855"/><stop offset="0.6692" stop-color="#9ac753"/><stop offset="0.6737" stop-color="#96c855"/><stop offset="0.6767" stop-color="#83c762"/><stop offset="0.6797" stop-color="#56c683"/><stop offset="0.6841" stop-color="#25bab1"/><stop offset="0.6871" stop-color="#1cb4c0"/><stop offset="0.6960" stop-color="#1db1c6"/><stop offset="0.7005" stop-color="#1db2c4"/><stop offset="0.7035" stop-color="#1cb6bc"/><stop offset="0.7094" stop-color="#50c588"/><stop offset="0.7124" stop-color="#6ec771"/><stop offset="0.7213" stop-color="#7bc768"/><stop offset="0.7258" stop-color="#71c770"/><stop offset="0.7287" stop-color="#54c684"/><stop offset="0.7347" stop-color="#1cb6bb"/><stop offset="0.7377" stop-color="#1db0c8"/><stop offset="0.7421" stop-color="#1eaecc"/><stop offset="0.7451" stop-color="#1dafc9"/><stop offset="0.7466" stop-color="#1db2c5"/><stop offset="0.7481" stop-color="#1cb5be"/><stop offset="0.7540" stop-color="#5cc67f"/><stop offset="0.7555" stop-color="#71c76f"/><stop offset="0.7570" stop-color="#7ec766"/><stop offset="0.7600" stop-color="#84c861"/><stop offset="0.7615" stop-color="#7fc766"/><stop offset="0.7629" stop-color="#72c76f"/><stop offset="0.7644" stop-color="#5dc67e"/><stop offset="0.7704" stop-color="#1db1c6"/><stop offset="0.7719" stop-color="#1eabd1"/><stop offset="0.7733" stop-color="#21a6d6"/><stop offset="0.7763" stop-color="#24a1db"/><stop offset="0.7838" stop-color="#24a1db"/><stop offset="0.7867" stop-color="#21a6d6"/><stop offset="0.7882" stop-color="#1eacd0"/><stop offset="0.7897" stop-color="#1db2c4"/><stop offset="0.7942" stop-color="#51c687"/><stop offset="0.7957" stop-color="#72c76f"/><stop offset="0.7971" stop-color="#8ac85d"/><stop offset="0.7986" stop-color="#99c753"/><stop offset="0.8031" stop-color="#a4c64e"/><stop offset="0.8076" stop-color="#9fc750"/><stop offset="0.8090" stop-color="#98c854"/><stop offset="0.8105" stop-color="#89c85e"/><stop offset="0.8120" stop-color="#6ec772"/><stop offset="0.8135" stop-color="#4bc48b"/><stop offset="0.8180" stop-color="#1eacd0"/><stop offset="0.8195" stop-color="#23a1db"/><stop offset="0.8209" stop-color="#2799e3"/><stop offset="0.8224" stop-color="#2a94e6"/><stop offset="0.8314" stop-color="#2d8ee9"/><stop offset="0.8358" stop-color="#2c90e8"/><stop offset="0.8388" stop-color="#2898e4"/><stop offset="0.8418" stop-color="#21a5d7"/><stop offset="0.8462" stop-color="#22b8b4"/><stop offset="0.8492" stop-color="#32bea0"/><stop offset="0.8522" stop-color="#3dc197"/><stop offset="0.8611" stop-color="#40c295"/><stop offset="0.8641" stop-color="#49c48d"/><stop offset="0.8656" stop-color="#57c682"/><stop offset="0.8700" stop-color="#abc549"/><stop offset="0.8715" stop-color="#bfc33f"/><stop offset="0.8730" stop-color="#cbc139"/><stop offset="0.8760" stop-color="#d3bf37"/><stop offset="0.8789" stop-color="#d0c038"/><stop offset="0.8804" stop-color="#cbc139"/><stop offset="0.8819" stop-color="#bcc340"/><stop offset="0.8834" stop-color="#a4c64e"/><stop offset="0.8879" stop-color="#32bea0"/><stop offset="0.8894" stop-color="#22b8b5"/><stop offset="0.8908" stop-color="#1db3c2"/><stop offset="0.8923" stop-color="#1db0c9"/><stop offset="0.8953" stop-color="#1eadcf"/><stop offset="0.9042" stop-color="#1eadce"/><stop offset="0.9072" stop-color="#1db1c7"/><stop offset="0.9146" stop-color="#3ac099"/><stop offset="0.9176" stop-color="#48c48f"/><stop offset="0.9265" stop-color="#4cc58b"/><stop offset="0.9325" stop-color="#44c392"/><stop offset="0.9399" stop-color="#26baaf"/><stop offset="0.9459" stop-color="#22b8b4"/><stop offset="0.9503" stop-color="#2abbaa"/><stop offset="0.9563" stop-color="#44c392"/><stop offset="0.9622" stop-color="#4ac48c"/><stop offset="0.9667" stop-color="#3ec197"/><stop offset="0.9726" stop-color="#26baaf"/><stop offset="0.9816" stop-color="#21b8b6"/><stop offset="0.9905" stop-color="#21b8b6"/><stop offset="0.9994" stop-color="#21b8b6"/></linearGradient>
<linearGradient id="gb1" gradientUnits="userSpaceOnUse" x1="216.5" y1="0" x2="384.6" y2="0"><stop offset="0.0000" stop-color="#1fb7b8"/><stop offset="0.0074" stop-color="#21b8b5"/><stop offset="0.0164" stop-color="#3ac09a"/><stop offset="0.0253" stop-color="#41c294"/><stop offset="0.0312" stop-color="#3ac099"/><stop offset="0.0402" stop-color="#23b9b3"/><stop offset="0.0491" stop-color="#22b8b4"/><stop offset="0.0580" stop-color="#35bf9d"/><stop offset="0.0625" stop-color="#3fc196"/><stop offset="0.0669" stop-color="#38c09b"/><stop offset="0.0744" stop-color="#1eb7ba"/><stop offset="0.0833" stop-color="#1cb4bf"/><stop offset="0.0922" stop-color="#1cb6bc"/><stop offset="0.0952" stop-color="#24b9b2"/><stop offset="0.1011" stop-color="#42c293"/><stop offset="0.1101" stop-color="#4cc58b"/><stop offset="0.1160" stop-color="#48c48e"/><stop offset="0.1249" stop-color="#27baae"/><stop offset="0.1279" stop-color="#26baaf"/><stop offset="0.1309" stop-color="#2fbea3"/><stop offset="0.1353" stop-color="#59c681"/><stop offset="0.1383" stop-color="#71c770"/><stop offset="0.1413" stop-color="#75c76c"/><stop offset="0.1443" stop-color="#67c776"/><stop offset="0.1517" stop-color="#29bbab"/><stop offset="0.1547" stop-color="#23b9b3"/><stop offset="0.1636" stop-color="#21b8b6"/><stop offset="0.1725" stop-color="#21b8b6"/><stop offset="0.1770" stop-color="#1fb7b8"/><stop offset="0.1800" stop-color="#1cb4c1"/><stop offset="0.1859" stop-color="#259ddf"/><stop offset="0.1889" stop-color="#2b93e7"/><stop offset="0.1978" stop-color="#2c8fe8"/><stop offset="0.2008" stop-color="#2a93e6"/><stop offset="0.2023" stop-color="#2899e3"/><stop offset="0.2037" stop-color="#24a0dc"/><stop offset="0.2052" stop-color="#1faad2"/><stop offset="0.2067" stop-color="#1cb4c0"/><stop offset="0.2112" stop-color="#8bc85c"/><stop offset="0.2127" stop-color="#b2c546"/><stop offset="0.2142" stop-color="#cbc139"/><stop offset="0.2156" stop-color="#d6bf36"/><stop offset="0.2171" stop-color="#dcbd34"/><stop offset="0.2201" stop-color="#e0bc33"/><stop offset="0.2231" stop-color="#dbbe35"/><stop offset="0.2261" stop-color="#cac139"/><stop offset="0.2305" stop-color="#8fc85a"/><stop offset="0.2335" stop-color="#6cc773"/><stop offset="0.2424" stop-color="#2ebda4"/><stop offset="0.2439" stop-color="#2cbca7"/><stop offset="0.2454" stop-color="#2dbda6"/><stop offset="0.2469" stop-color="#34bf9f"/><stop offset="0.2528" stop-color="#75c76c"/><stop offset="0.2558" stop-color="#85c861"/><stop offset="0.2588" stop-color="#7fc765"/><stop offset="0.2603" stop-color="#73c76e"/><stop offset="0.2617" stop-color="#60c67c"/><stop offset="0.2677" stop-color="#1cb6bc"/><stop offset="0.2692" stop-color="#1db2c5"/><stop offset="0.2722" stop-color="#1eadcd"/><stop offset="0.2811" stop-color="#1eacd0"/><stop offset="0.2900" stop-color="#1eacd0"/><stop offset="0.2989" stop-color="#1eacd0"/><stop offset="0.3049" stop-color="#1eadce"/><stop offset="0.3079" stop-color="#1db0c8"/><stop offset="0.3153" stop-color="#33bf9f"/><stop offset="0.3183" stop-color="#3bc199"/><stop offset="0.3272" stop-color="#25bab0"/><stop offset="0.3346" stop-color="#22b8b4"/><stop offset="0.3391" stop-color="#2abbaa"/><stop offset="0.3450" stop-color="#44c392"/><stop offset="0.3495" stop-color="#49c48d"/><stop offset="0.3525" stop-color="#42c293"/><stop offset="0.3599" stop-color="#1fb7b8"/><stop offset="0.3673" stop-color="#1cb4bf"/><stop offset="0.3718" stop-color="#1eb7ba"/><stop offset="0.3748" stop-color="#2bbca9"/><stop offset="0.3792" stop-color="#5fc67d"/><stop offset="0.3807" stop-color="#72c76f"/><stop offset="0.3837" stop-color="#84c861"/><stop offset="0.3867" stop-color="#80c765"/><stop offset="0.3896" stop-color="#65c778"/><stop offset="0.3941" stop-color="#31bea1"/><stop offset="0.3971" stop-color="#26bab0"/><stop offset="0.4030" stop-color="#22b8b4"/><stop offset="0.4120" stop-color="#35bf9d"/><stop offset="0.4164" stop-color="#3fc296"/><stop offset="0.4209" stop-color="#3ac099"/><stop offset="0.4283" stop-color="#26baaf"/><stop offset="0.4298" stop-color="#27baae"/><stop offset="0.4313" stop-color="#2bbca9"/><stop offset="0.4328" stop-color="#35bf9e"/><stop offset="0.4343" stop-color="#4cc58b"/><stop offset="0.4387" stop-color="#bfc33f"/><stop offset="0.4402" stop-color="#d3bf37"/><stop offset="0.4417" stop-color="#debd34"/><stop offset="0.4447" stop-color="#e8ba31"/><stop offset="0.4521" stop-color="#e8ba31"/><stop offset="0.4551" stop-color="#e2bc32"/><stop offset="0.4566" stop-color="#dbbd34"/><stop offset="0.4595" stop-color="#c0c33e"/><stop offset="0.4625" stop-color="#93c857"/><stop offset="0.4685" stop-color="#49c48d"/><stop offset="0.4714" stop-color="#28bbad"/><stop offset="0.4744" stop-color="#1dafca"/><stop offset="0.4759" stop-color="#1fa9d3"/><stop offset="0.4774" stop-color="#22a4d8"/><stop offset="0.4819" stop-color="#24a0dc"/><stop offset="0.4908" stop-color="#24a0dc"/><stop offset="0.4952" stop-color="#23a2da"/><stop offset="0.4982" stop-color="#20a9d3"/><stop offset="0.5057" stop-color="#2cbda7"/><stop offset="0.5086" stop-color="#3ac09a"/><stop offset="0.5161" stop-color="#40c295"/><stop offset="0.5250" stop-color="#28bbad"/><stop offset="0.5339" stop-color="#21b8b6"/><stop offset="0.5399" stop-color="#1eb7ba"/><stop offset="0.5428" stop-color="#1db3c2"/><stop offset="0.5473" stop-color="#20a9d3"/><stop offset="0.5488" stop-color="#21a6d6"/><stop offset="0.5503" stop-color="#21a7d5"/><stop offset="0.5518" stop-color="#1faad2"/><stop offset="0.5532" stop-color="#1dafca"/><stop offset="0.5577" stop-color="#37c09d"/><stop offset="0.5592" stop-color="#47c38f"/><stop offset="0.5607" stop-color="#50c688"/><stop offset="0.5622" stop-color="#54c685"/><stop offset="0.5651" stop-color="#4ac48d"/><stop offset="0.5696" stop-color="#2ebda4"/><stop offset="0.5711" stop-color="#2cbca7"/><stop offset="0.5726" stop-color="#2dbda6"/><stop offset="0.5741" stop-color="#34bf9f"/><stop offset="0.5785" stop-color="#64c779"/><stop offset="0.5800" stop-color="#74c76e"/><stop offset="0.5815" stop-color="#7cc768"/><stop offset="0.5830" stop-color="#7bc768"/><stop offset="0.5845" stop-color="#72c76f"/><stop offset="0.5860" stop-color="#60c67c"/><stop offset="0.5919" stop-color="#1db7ba"/><stop offset="0.5949" stop-color="#1db0c7"/><stop offset="0.6038" stop-color="#1eaecd"/><stop offset="0.6127" stop-color="#1dafca"/><stop offset="0.6157" stop-color="#1db2c4"/><stop offset="0.6187" stop-color="#23b9b3"/><stop offset="0.6231" stop-color="#47c38f"/><stop offset="0.6261" stop-color="#59c681"/><stop offset="0.6306" stop-color="#5cc67f"/><stop offset="0.6350" stop-color="#4fc588"/><stop offset="0.6380" stop-color="#54c685"/><stop offset="0.6440" stop-color="#82c763"/><stop offset="0.6529" stop-color="#8cc85c"/><stop offset="0.6618" stop-color="#87c860"/><stop offset="0.6678" stop-color="#64c779"/><stop offset="0.6707" stop-color="#4bc48c"/><stop offset="0.6722" stop-color="#3dc197"/><stop offset="0.6737" stop-color="#2dbda6"/><stop offset="0.6797" stop-color="#2897e4"/><stop offset="0.6811" stop-color="#2e8cea"/><stop offset="0.6826" stop-color="#3185ed"/><stop offset="0.6856" stop-color="#3480f0"/><stop offset="0.6886" stop-color="#3285ee"/><stop offset="0.6901" stop-color="#2f8beb"/><stop offset="0.6916" stop-color="#2a95e6"/><stop offset="0.6930" stop-color="#24a0dc"/><stop offset="0.6975" stop-color="#30bea2"/><stop offset="0.6990" stop-color="#4cc58b"/><stop offset="0.7005" stop-color="#6ac775"/><stop offset="0.7020" stop-color="#81c764"/><stop offset="0.7035" stop-color="#8ec85b"/><stop offset="0.7064" stop-color="#93c857"/><stop offset="0.7094" stop-color="#81c764"/><stop offset="0.7153" stop-color="#4cc48b"/><stop offset="0.7243" stop-color="#41c294"/><stop offset="0.7332" stop-color="#41c294"/><stop offset="0.7421" stop-color="#41c294"/><stop offset="0.7510" stop-color="#46c390"/><stop offset="0.7600" stop-color="#4cc58b"/><stop offset="0.7659" stop-color="#44c392"/><stop offset="0.7733" stop-color="#26baaf"/><stop offset="0.7823" stop-color="#21b8b6"/><stop offset="0.7912" stop-color="#22b8b4"/><stop offset="0.7942" stop-color="#26baae"/><stop offset="0.7957" stop-color="#2cbca7"/><stop offset="0.7986" stop-color="#48c48e"/><stop offset="0.8016" stop-color="#7ac769"/><stop offset="0.8031" stop-color="#8ec85b"/><stop offset="0.8046" stop-color="#99c753"/><stop offset="0.8076" stop-color="#9fc750"/><stop offset="0.8105" stop-color="#92c857"/><stop offset="0.8165" stop-color="#4fc588"/><stop offset="0.8195" stop-color="#44c392"/><stop offset="0.8284" stop-color="#41c294"/><stop offset="0.8328" stop-color="#3cc198"/><stop offset="0.8343" stop-color="#36bf9d"/><stop offset="0.8358" stop-color="#2dbda6"/><stop offset="0.8373" stop-color="#22b9b4"/><stop offset="0.8432" stop-color="#2c90e8"/><stop offset="0.8447" stop-color="#3185ed"/><stop offset="0.8462" stop-color="#357ff1"/><stop offset="0.8492" stop-color="#3779f3"/><stop offset="0.8537" stop-color="#377bf3"/><stop offset="0.8551" stop-color="#357ff1"/><stop offset="0.8566" stop-color="#3186ed"/><stop offset="0.8581" stop-color="#2b92e7"/><stop offset="0.8596" stop-color="#24a0dc"/><stop offset="0.8611" stop-color="#1db0c9"/><stop offset="0.8656" stop-color="#90c859"/><stop offset="0.8670" stop-color="#bac442"/><stop offset="0.8685" stop-color="#d2c037"/><stop offset="0.8700" stop-color="#debd34"/><stop offset="0.8715" stop-color="#e5bb32"/><stop offset="0.8745" stop-color="#e7bb31"/><stop offset="0.8760" stop-color="#e5bb32"/><stop offset="0.8775" stop-color="#debd34"/><stop offset="0.8789" stop-color="#d3bf37"/><stop offset="0.8804" stop-color="#bfc33f"/><stop offset="0.8849" stop-color="#4cc48b"/><stop offset="0.8864" stop-color="#35bf9e"/><stop offset="0.8879" stop-color="#2abcaa"/><stop offset="0.8908" stop-color="#22b9b4"/><stop offset="0.8998" stop-color="#21b8b6"/><stop offset="0.9072" stop-color="#24b9b1"/><stop offset="0.9102" stop-color="#2cbda7"/><stop offset="0.9161" stop-color="#52c686"/><stop offset="0.9191" stop-color="#5ec67d"/><stop offset="0.9221" stop-color="#5ac680"/><stop offset="0.9250" stop-color="#4ac48c"/><stop offset="0.9310" stop-color="#27bbad"/><stop offset="0.9399" stop-color="#21b8b6"/><stop offset="0.9474" stop-color="#23b9b2"/><stop offset="0.9563" stop-color="#44c392"/><stop offset="0.9622" stop-color="#4ac48c"/><stop offset="0.9667" stop-color="#3ec197"/><stop offset="0.9726" stop-color="#26baaf"/><stop offset="0.9816" stop-color="#21b8b6"/><stop offset="0.9905" stop-color="#21b8b6"/><stop offset="0.9994" stop-color="#21b8b6"/></linearGradient>
<linearGradient id="gb2" gradientUnits="userSpaceOnUse" x1="216.5" y1="0" x2="384.6" y2="0"><stop offset="0.0000" stop-color="#38c09b"/><stop offset="0.0089" stop-color="#38c09b"/><stop offset="0.0178" stop-color="#38c09b"/><stop offset="0.0238" stop-color="#30bea3"/><stop offset="0.0312" stop-color="#23b9b3"/><stop offset="0.0387" stop-color="#24b9b2"/><stop offset="0.0476" stop-color="#4bc48c"/><stop offset="0.0565" stop-color="#56c683"/><stop offset="0.0610" stop-color="#50c688"/><stop offset="0.0699" stop-color="#27baae"/><stop offset="0.0729" stop-color="#23b9b3"/><stop offset="0.0818" stop-color="#30bea3"/><stop offset="0.0907" stop-color="#37c09c"/><stop offset="0.0996" stop-color="#26baae"/><stop offset="0.1056" stop-color="#22b8b5"/><stop offset="0.1101" stop-color="#27baae"/><stop offset="0.1175" stop-color="#4bc48c"/><stop offset="0.1249" stop-color="#55c684"/><stop offset="0.1294" stop-color="#4bc48c"/><stop offset="0.1368" stop-color="#27baae"/><stop offset="0.1413" stop-color="#22b8b4"/><stop offset="0.1502" stop-color="#30bea3"/><stop offset="0.1591" stop-color="#37c09c"/><stop offset="0.1681" stop-color="#26baae"/><stop offset="0.1725" stop-color="#23b9b3"/><stop offset="0.1755" stop-color="#28bbad"/><stop offset="0.1829" stop-color="#56c683"/><stop offset="0.1859" stop-color="#5fc67c"/><stop offset="0.1889" stop-color="#56c683"/><stop offset="0.1963" stop-color="#28bbad"/><stop offset="0.2052" stop-color="#21b8b5"/><stop offset="0.2097" stop-color="#25bab0"/><stop offset="0.2171" stop-color="#3dc197"/><stop offset="0.2246" stop-color="#42c293"/><stop offset="0.2290" stop-color="#38c09c"/><stop offset="0.2350" stop-color="#25bab0"/><stop offset="0.2380" stop-color="#23b9b3"/><stop offset="0.2409" stop-color="#27baae"/><stop offset="0.2484" stop-color="#4bc48c"/><stop offset="0.2543" stop-color="#55c684"/><stop offset="0.2588" stop-color="#4bc48c"/><stop offset="0.2662" stop-color="#26baae"/><stop offset="0.2722" stop-color="#1cb5be"/><stop offset="0.2796" stop-color="#23a1db"/><stop offset="0.2826" stop-color="#259ddf"/><stop offset="0.2855" stop-color="#249fdd"/><stop offset="0.2870" stop-color="#23a3d9"/><stop offset="0.2885" stop-color="#20a8d4"/><stop offset="0.2915" stop-color="#1cb6bc"/><stop offset="0.2945" stop-color="#3fc196"/><stop offset="0.2960" stop-color="#53c686"/><stop offset="0.2974" stop-color="#67c777"/><stop offset="0.3004" stop-color="#7ac769"/><stop offset="0.3049" stop-color="#7bc768"/><stop offset="0.3079" stop-color="#6bc774"/><stop offset="0.3153" stop-color="#29bbab"/><stop offset="0.3183" stop-color="#24b9b2"/><stop offset="0.3212" stop-color="#25bab0"/><stop offset="0.3302" stop-color="#40c295"/><stop offset="0.3376" stop-color="#40c295"/><stop offset="0.3465" stop-color="#25bab0"/><stop offset="0.3495" stop-color="#23b9b3"/><stop offset="0.3525" stop-color="#27baae"/><stop offset="0.3599" stop-color="#4bc48c"/><stop offset="0.3659" stop-color="#55c684"/><stop offset="0.3703" stop-color="#4bc48c"/><stop offset="0.3792" stop-color="#1cb6bc"/><stop offset="0.3852" stop-color="#1db2c4"/><stop offset="0.3941" stop-color="#1db2c4"/><stop offset="0.4030" stop-color="#1db3c3"/><stop offset="0.4060" stop-color="#1cb5be"/><stop offset="0.4134" stop-color="#39c09a"/><stop offset="0.4224" stop-color="#44c392"/><stop offset="0.4298" stop-color="#3dc197"/><stop offset="0.4372" stop-color="#25bab0"/><stop offset="0.4462" stop-color="#21b8b5"/><stop offset="0.4506" stop-color="#25bab0"/><stop offset="0.4581" stop-color="#3dc197"/><stop offset="0.4625" stop-color="#41c294"/><stop offset="0.4655" stop-color="#39c09a"/><stop offset="0.4729" stop-color="#1cb5be"/><stop offset="0.4819" stop-color="#1db2c4"/><stop offset="0.4908" stop-color="#1db2c4"/><stop offset="0.4952" stop-color="#1cb4c0"/><stop offset="0.5042" stop-color="#3bc199"/><stop offset="0.5116" stop-color="#42c293"/><stop offset="0.5161" stop-color="#38c09c"/><stop offset="0.5220" stop-color="#25bab0"/><stop offset="0.5309" stop-color="#21b8b6"/><stop offset="0.5399" stop-color="#21b8b5"/><stop offset="0.5443" stop-color="#24b9b2"/><stop offset="0.5532" stop-color="#4bc48c"/><stop offset="0.5592" stop-color="#55c684"/><stop offset="0.5637" stop-color="#4bc48c"/><stop offset="0.5711" stop-color="#27baae"/><stop offset="0.5800" stop-color="#21b8b5"/><stop offset="0.5874" stop-color="#25bab0"/><stop offset="0.5949" stop-color="#3dc197"/><stop offset="0.6023" stop-color="#42c293"/><stop offset="0.6068" stop-color="#38c09c"/><stop offset="0.6127" stop-color="#26bab0"/><stop offset="0.6157" stop-color="#25b9b1"/><stop offset="0.6187" stop-color="#2bbca8"/><stop offset="0.6246" stop-color="#4bc48c"/><stop offset="0.6336" stop-color="#56c683"/><stop offset="0.6425" stop-color="#53c685"/><stop offset="0.6454" stop-color="#4ac48c"/><stop offset="0.6484" stop-color="#35bf9e"/><stop offset="0.6544" stop-color="#1eaccf"/><stop offset="0.6573" stop-color="#23a2da"/><stop offset="0.6603" stop-color="#269ddf"/><stop offset="0.6678" stop-color="#269ce0"/><stop offset="0.6707" stop-color="#24a1db"/><stop offset="0.6722" stop-color="#21a7d5"/><stop offset="0.6737" stop-color="#1dafca"/><stop offset="0.6752" stop-color="#21b8b6"/><stop offset="0.6782" stop-color="#69c775"/><stop offset="0.6797" stop-color="#99c753"/><stop offset="0.6811" stop-color="#b7c443"/><stop offset="0.6826" stop-color="#c9c23a"/><stop offset="0.6841" stop-color="#cfc038"/><stop offset="0.6856" stop-color="#d1c037"/><stop offset="0.6871" stop-color="#d0c038"/><stop offset="0.6886" stop-color="#cbc139"/><stop offset="0.6901" stop-color="#bec33f"/><stop offset="0.6916" stop-color="#a8c64b"/><stop offset="0.6960" stop-color="#44c392"/><stop offset="0.6975" stop-color="#30bea2"/><stop offset="0.6990" stop-color="#29bbac"/><stop offset="0.7020" stop-color="#22b9b4"/><stop offset="0.7079" stop-color="#24b9b1"/><stop offset="0.7168" stop-color="#36bf9d"/><stop offset="0.7258" stop-color="#38c09b"/><stop offset="0.7347" stop-color="#36bf9d"/><stop offset="0.7436" stop-color="#24b9b1"/><stop offset="0.7525" stop-color="#21b8b6"/><stop offset="0.7615" stop-color="#23b9b3"/><stop offset="0.7704" stop-color="#3dc197"/><stop offset="0.7778" stop-color="#42c293"/><stop offset="0.7808" stop-color="#3bc199"/><stop offset="0.7838" stop-color="#2cbda7"/><stop offset="0.7897" stop-color="#1db0c8"/><stop offset="0.7927" stop-color="#1eaccf"/><stop offset="0.7986" stop-color="#1eacd0"/><stop offset="0.8016" stop-color="#1db0c8"/><stop offset="0.8076" stop-color="#38c09c"/><stop offset="0.8105" stop-color="#4cc58b"/><stop offset="0.8150" stop-color="#54c685"/><stop offset="0.8180" stop-color="#4cc58b"/><stop offset="0.8209" stop-color="#38c09c"/><stop offset="0.8254" stop-color="#1cb4c0"/><stop offset="0.8284" stop-color="#1eaecd"/><stop offset="0.8328" stop-color="#1eabd1"/><stop offset="0.8358" stop-color="#1eadcd"/><stop offset="0.8373" stop-color="#1db0c9"/><stop offset="0.8388" stop-color="#1cb4c1"/><stop offset="0.8447" stop-color="#63c779"/><stop offset="0.8462" stop-color="#7bc768"/><stop offset="0.8477" stop-color="#8ac85e"/><stop offset="0.8507" stop-color="#94c856"/><stop offset="0.8537" stop-color="#8cc85c"/><stop offset="0.8566" stop-color="#6ec772"/><stop offset="0.8611" stop-color="#34bf9f"/><stop offset="0.8641" stop-color="#26baaf"/><stop offset="0.8715" stop-color="#22b8b5"/><stop offset="0.8804" stop-color="#30bea3"/><stop offset="0.8864" stop-color="#37c09c"/><stop offset="0.8908" stop-color="#30bea2"/><stop offset="0.8983" stop-color="#1cb4bf"/><stop offset="0.9072" stop-color="#1db2c4"/><stop offset="0.9131" stop-color="#1db3c2"/><stop offset="0.9221" stop-color="#30bea2"/><stop offset="0.9310" stop-color="#38c09b"/><stop offset="0.9399" stop-color="#38c09b"/><stop offset="0.9488" stop-color="#38c09b"/><stop offset="0.9578" stop-color="#38c09b"/><stop offset="0.9652" stop-color="#33bf9f"/><stop offset="0.9741" stop-color="#23b9b3"/><stop offset="0.9830" stop-color="#21b8b6"/><stop offset="0.9920" stop-color="#21b8b6"/><stop offset="0.9994" stop-color="#21b8b6"/></linearGradient>
<linearGradient id="gb3" gradientUnits="userSpaceOnUse" x1="216.5" y1="0" x2="384.6" y2="0"><stop offset="0.0000" stop-color="#2bbca9"/><stop offset="0.0089" stop-color="#2bbca9"/><stop offset="0.0178" stop-color="#2ebda5"/><stop offset="0.0268" stop-color="#41c294"/><stop offset="0.0312" stop-color="#3dc198"/><stop offset="0.0387" stop-color="#25bab0"/><stop offset="0.0476" stop-color="#21b8b6"/><stop offset="0.0565" stop-color="#21b8b6"/><stop offset="0.0654" stop-color="#21b8b6"/><stop offset="0.0744" stop-color="#21b8b6"/><stop offset="0.0833" stop-color="#22b8b5"/><stop offset="0.0877" stop-color="#28bbad"/><stop offset="0.0952" stop-color="#56c683"/><stop offset="0.0996" stop-color="#65c778"/><stop offset="0.1071" stop-color="#5bc67f"/><stop offset="0.1160" stop-color="#44c391"/><stop offset="0.1220" stop-color="#38c09c"/><stop offset="0.1279" stop-color="#25bab0"/><stop offset="0.1368" stop-color="#21b8b5"/><stop offset="0.1428" stop-color="#24b9b2"/><stop offset="0.1517" stop-color="#4bc48c"/><stop offset="0.1547" stop-color="#52c686"/><stop offset="0.1576" stop-color="#4fc588"/><stop offset="0.1606" stop-color="#40c294"/><stop offset="0.1666" stop-color="#1cb4c1"/><stop offset="0.1695" stop-color="#1eaecc"/><stop offset="0.1740" stop-color="#1eabd1"/><stop offset="0.1770" stop-color="#1eadcf"/><stop offset="0.1785" stop-color="#1eaecb"/><stop offset="0.1800" stop-color="#1db1c5"/><stop offset="0.1829" stop-color="#28bbad"/><stop offset="0.1859" stop-color="#4cc58b"/><stop offset="0.1874" stop-color="#61c67b"/><stop offset="0.1889" stop-color="#70c770"/><stop offset="0.1978" stop-color="#7fc765"/><stop offset="0.2037" stop-color="#74c76d"/><stop offset="0.2097" stop-color="#50c588"/><stop offset="0.2156" stop-color="#2bbca8"/><stop offset="0.2186" stop-color="#25b9b1"/><stop offset="0.2216" stop-color="#26bab0"/><stop offset="0.2305" stop-color="#40c295"/><stop offset="0.2394" stop-color="#40c295"/><stop offset="0.2484" stop-color="#25bab0"/><stop offset="0.2573" stop-color="#21b8b6"/><stop offset="0.2632" stop-color="#23b9b3"/><stop offset="0.2662" stop-color="#29bbab"/><stop offset="0.2736" stop-color="#6bc774"/><stop offset="0.2766" stop-color="#7bc768"/><stop offset="0.2855" stop-color="#7ec766"/><stop offset="0.2900" stop-color="#73c76e"/><stop offset="0.2974" stop-color="#41c294"/><stop offset="0.3064" stop-color="#38c09b"/><stop offset="0.3138" stop-color="#30bea3"/><stop offset="0.3212" stop-color="#23b9b3"/><stop offset="0.3287" stop-color="#24b9b2"/><stop offset="0.3376" stop-color="#4bc48c"/><stop offset="0.3406" stop-color="#51c687"/><stop offset="0.3435" stop-color="#4ac48d"/><stop offset="0.3465" stop-color="#35bf9e"/><stop offset="0.3525" stop-color="#1eaccf"/><stop offset="0.3554" stop-color="#23a2da"/><stop offset="0.3584" stop-color="#269ddf"/><stop offset="0.3629" stop-color="#269ddf"/><stop offset="0.3659" stop-color="#23a1db"/><stop offset="0.3688" stop-color="#1eacd0"/><stop offset="0.3748" stop-color="#2dbda6"/><stop offset="0.3778" stop-color="#3cc198"/><stop offset="0.3852" stop-color="#42c293"/><stop offset="0.3896" stop-color="#38c09c"/><stop offset="0.3956" stop-color="#25bab0"/><stop offset="0.4045" stop-color="#21b8b6"/><stop offset="0.4134" stop-color="#21b8b6"/><stop offset="0.4224" stop-color="#21b8b5"/><stop offset="0.4298" stop-color="#24b9b1"/><stop offset="0.4387" stop-color="#36bf9d"/><stop offset="0.4477" stop-color="#38c09b"/><stop offset="0.4566" stop-color="#38c09b"/><stop offset="0.4655" stop-color="#39c09b"/><stop offset="0.4685" stop-color="#44c391"/><stop offset="0.4700" stop-color="#52c686"/><stop offset="0.4744" stop-color="#abc54a"/><stop offset="0.4759" stop-color="#bfc33f"/><stop offset="0.4774" stop-color="#cbc139"/><stop offset="0.4789" stop-color="#d0c038"/><stop offset="0.4819" stop-color="#d0c038"/><stop offset="0.4833" stop-color="#cac239"/><stop offset="0.4848" stop-color="#bac442"/><stop offset="0.4863" stop-color="#9fc750"/><stop offset="0.4908" stop-color="#2cbca7"/><stop offset="0.4923" stop-color="#1db6bb"/><stop offset="0.4938" stop-color="#1db1c6"/><stop offset="0.4952" stop-color="#1eaecc"/><stop offset="0.5042" stop-color="#1fabd1"/><stop offset="0.5131" stop-color="#1eaccf"/><stop offset="0.5161" stop-color="#1dafca"/><stop offset="0.5250" stop-color="#36bf9d"/><stop offset="0.5294" stop-color="#42c293"/><stop offset="0.5354" stop-color="#40c295"/><stop offset="0.5443" stop-color="#25bab0"/><stop offset="0.5532" stop-color="#21b8b6"/><stop offset="0.5622" stop-color="#21b8b6"/><stop offset="0.5711" stop-color="#21b8b6"/><stop offset="0.5800" stop-color="#21b8b5"/><stop offset="0.5860" stop-color="#25bab0"/><stop offset="0.5889" stop-color="#2fbea3"/><stop offset="0.5934" stop-color="#5cc67f"/><stop offset="0.5964" stop-color="#75c76c"/><stop offset="0.6038" stop-color="#7dc767"/><stop offset="0.6068" stop-color="#71c76f"/><stop offset="0.6083" stop-color="#62c67a"/><stop offset="0.6098" stop-color="#4cc58b"/><stop offset="0.6157" stop-color="#1eabd1"/><stop offset="0.6172" stop-color="#22a4d8"/><stop offset="0.6187" stop-color="#24a0dc"/><stop offset="0.6217" stop-color="#269ddf"/><stop offset="0.6246" stop-color="#259ede"/><stop offset="0.6261" stop-color="#24a1db"/><stop offset="0.6276" stop-color="#21a7d5"/><stop offset="0.6291" stop-color="#1dafca"/><stop offset="0.6306" stop-color="#21b8b6"/><stop offset="0.6336" stop-color="#69c775"/><stop offset="0.6350" stop-color="#99c753"/><stop offset="0.6365" stop-color="#b7c443"/><stop offset="0.6380" stop-color="#c9c23a"/><stop offset="0.6395" stop-color="#d0c038"/><stop offset="0.6425" stop-color="#d3bf37"/><stop offset="0.6454" stop-color="#cbc139"/><stop offset="0.6469" stop-color="#bdc340"/><stop offset="0.6484" stop-color="#a5c64d"/><stop offset="0.6529" stop-color="#3ac09a"/><stop offset="0.6544" stop-color="#28bbac"/><stop offset="0.6559" stop-color="#1fb7b8"/><stop offset="0.6573" stop-color="#1cb5bf"/><stop offset="0.6603" stop-color="#1db3c2"/><stop offset="0.6633" stop-color="#1cb5be"/><stop offset="0.6707" stop-color="#39c09a"/><stop offset="0.6797" stop-color="#44c392"/><stop offset="0.6856" stop-color="#3dc197"/><stop offset="0.6930" stop-color="#25bab0"/><stop offset="0.7020" stop-color="#21b8b5"/><stop offset="0.7079" stop-color="#25bab0"/><stop offset="0.7153" stop-color="#3dc197"/><stop offset="0.7243" stop-color="#44c392"/><stop offset="0.7332" stop-color="#3fc296"/><stop offset="0.7421" stop-color="#39c09b"/><stop offset="0.7510" stop-color="#39c09b"/><stop offset="0.7600" stop-color="#3dc197"/><stop offset="0.7689" stop-color="#44c392"/><stop offset="0.7778" stop-color="#42c293"/><stop offset="0.7823" stop-color="#38c09c"/><stop offset="0.7882" stop-color="#25bab0"/><stop offset="0.7957" stop-color="#22b8b4"/><stop offset="0.8001" stop-color="#28bbac"/><stop offset="0.8061" stop-color="#3dc198"/><stop offset="0.8090" stop-color="#40c295"/><stop offset="0.8120" stop-color="#39c09a"/><stop offset="0.8195" stop-color="#1cb5be"/><stop offset="0.8269" stop-color="#1db2c4"/><stop offset="0.8328" stop-color="#1cb5be"/><stop offset="0.8358" stop-color="#23b9b3"/><stop offset="0.8388" stop-color="#35bf9e"/><stop offset="0.8432" stop-color="#7ac769"/><stop offset="0.8447" stop-color="#8ec85b"/><stop offset="0.8462" stop-color="#99c753"/><stop offset="0.8492" stop-color="#9ec751"/><stop offset="0.8507" stop-color="#98c754"/><stop offset="0.8522" stop-color="#8bc85c"/><stop offset="0.8537" stop-color="#74c76d"/><stop offset="0.8596" stop-color="#1cb5be"/><stop offset="0.8611" stop-color="#1db0c7"/><stop offset="0.8626" stop-color="#1eadce"/><stop offset="0.8656" stop-color="#1fa9d3"/><stop offset="0.8745" stop-color="#20a9d3"/><stop offset="0.8789" stop-color="#1eacd0"/><stop offset="0.8819" stop-color="#1db1c6"/><stop offset="0.8879" stop-color="#30bea2"/><stop offset="0.8908" stop-color="#41c294"/><stop offset="0.8998" stop-color="#4ac48d"/><stop offset="0.9087" stop-color="#4ac48d"/><stop offset="0.9176" stop-color="#49c48d"/><stop offset="0.9236" stop-color="#42c294"/><stop offset="0.9310" stop-color="#26baaf"/><stop offset="0.9399" stop-color="#21b8b5"/><stop offset="0.9474" stop-color="#24b9b1"/><stop offset="0.9563" stop-color="#36bf9d"/><stop offset="0.9652" stop-color="#38c09b"/><stop offset="0.9741" stop-color="#33bf9f"/><stop offset="0.9830" stop-color="#23b9b3"/><stop offset="0.9920" stop-color="#21b8b6"/><stop offset="0.9994" stop-color="#21b8b6"/></linearGradient>
<clipPath id="clipb"><rect x="216.5" y="79.2" width="168.1" height="108"/></clipPath>
</defs>
<rect width="397" height="550" fill="#ffffff"/>
<rect x="26.9" y="5.3" width="164.5" height="73.7" fill="#fff" stroke="#4a4a4a" stroke-width="0.9"/>
<rect x="216.4" y="4.8" width="168.3" height="74.2" fill="#fff" stroke="#4a4a4a" stroke-width="0.9"/>
<path d="M27.1,30.2C28.35,29.47 30.78,26.06 32.8,26.9C34.82,27.74 34.74,34.99 36.3,34C37.86,33.01 38.67,24.4 39.9,22.4C41.13,20.4 40.8,25.52 41.9,24.9C43,24.28 43.73,20.02 44.9,19.6C46.07,19.18 46.03,23.26 47.2,23C48.37,22.74 49.28,19.15 50.2,18.4C51.12,17.65 50.89,15.33 51.4,19.6C51.91,23.87 51.49,26.32 52.5,37.8C53.51,49.28 54.44,71.8 56,71.8C57.56,71.8 58.37,50.6 59.6,37.8C60.83,25 60.83,19.25 61.6,13.6C62.37,7.95 62.29,12.76 63.1,12.1C63.91,11.44 64.4,9.94 65.3,10.6C66.2,11.26 66.25,13.52 67.2,15.1C68.15,16.68 68.68,14.48 69.6,17.8C70.52,21.12 70.5,21.69 71.4,30.2C72.3,38.71 72.58,53.42 73.7,56.5C74.82,59.58 75.49,47.61 76.5,44.2C77.51,40.79 77.4,45.07 78.3,41C79.2,36.93 79.7,30.74 80.6,25.7C81.5,20.66 81.48,20.59 82.4,18.1C83.32,15.61 83.88,14.07 84.8,14.4C85.72,14.73 85.7,15.46 86.6,19.6C87.5,23.74 88,28.93 88.9,33.2C89.8,37.47 89.86,40.32 90.7,39C91.54,37.68 91.86,31.86 92.7,27.2C93.54,22.54 93.69,18.79 94.5,17.8C95.31,16.81 95.48,19.14 96.4,22.7C97.32,26.26 97.69,29.12 98.7,34C99.71,38.88 100.01,44.24 101,44.9C101.99,45.56 102.03,41.88 103.2,37C104.37,32.12 105.22,26.68 106.3,22.7C107.38,18.72 107.37,18.9 108.1,18.9C108.83,18.9 108.83,19.82 109.6,22.7C110.37,25.58 110.68,30.5 111.6,32C112.52,33.5 112.81,29.9 113.8,29.5C114.79,29.1 114.93,30.53 116.1,30.2C117.27,29.87 117.76,29.23 119.1,28C120.44,26.77 121.06,26.27 122.2,24.6C123.34,22.93 123.44,20.25 124.3,20.4C125.16,20.55 125.22,21.47 126.1,25.3C126.98,29.13 127.57,34.21 128.3,37.8C129.03,41.39 128.74,40.87 129.4,41.6C130.06,42.33 130.44,40.62 131.3,41.1C132.16,41.58 132.46,44.2 133.3,43.8C134.14,43.4 134.31,43.61 135.1,39.3C135.89,34.99 136.13,29.26 136.9,24.2C137.67,19.14 137.83,16.63 138.6,16.3C139.37,15.97 139.5,19.8 140.4,22.7C141.3,25.6 141.71,29.02 142.7,29.5C143.69,29.98 143.91,27.56 144.9,24.9C145.89,22.24 146.36,18.21 147.2,17.4C148.04,16.59 147.8,16.98 148.7,21.2C149.6,25.42 150.31,35.28 151.3,36.6C152.29,37.92 152.43,30.94 153.2,27.2C153.97,23.46 154.12,18.94 154.8,19.6C155.48,20.26 155.57,24.37 156.3,30.2C157.03,36.03 157.29,45.09 158.1,46.1C158.91,47.11 158.97,35.97 160,34.8C161.03,33.63 161.7,40.47 162.8,40.8C163.9,41.13 164.03,37.62 165,36.3C165.97,34.98 166.19,37.31 167.2,34.8C168.21,32.29 168.68,28.4 169.6,24.9C170.52,21.4 170.61,18.9 171.4,18.9C172.19,18.9 172.54,22.9 173.2,24.9C173.86,26.9 173.74,28.48 174.4,28C175.06,27.52 175.36,21.71 176.2,22.7C177.04,23.69 177.43,28.78 178.2,32.5C178.97,36.22 179.08,40.11 179.7,39.6C180.32,39.09 180.38,33.92 181,30.2C181.62,26.48 181.73,23.69 182.5,22.7C183.27,21.71 183.66,24.89 184.5,25.7C185.34,26.51 185.57,25.41 186.3,26.4C187.03,27.39 187.21,28.29 187.8,30.2C188.39,32.11 188.41,35.1 189,35.1C189.59,35.1 189.99,32.27 190.5,30.2C191.01,28.13 191.12,26.69 191.3,25.7" fill="none" stroke="#000" stroke-width="1.5" stroke-linejoin="round" stroke-linecap="round"/>
<path d="M216.9,29.5C217.67,29.17 218.73,27.91 220.4,28C222.07,28.09 223,31.07 224.5,29.9C226,28.73 226.1,26.02 227.2,22.7C228.3,19.38 228.58,15.13 229.5,14.8C230.42,14.47 230.41,14.49 231.4,21.2C232.39,27.91 232.99,37.01 234,45.3C235.01,53.59 235.1,58.9 236,58.9C236.9,58.9 237.22,53.26 238.1,45.3C238.98,37.34 239.3,29.34 240,22.7C240.7,16.06 240.68,15.28 241.3,15.1C241.92,14.92 242.25,19.5 242.8,21.9C243.35,24.3 243.25,26.09 243.8,26C244.35,25.91 244.64,19.92 245.3,21.5C245.96,23.08 245.96,26.47 246.8,33.2C247.64,39.93 248.09,52.47 249.1,52.1C250.11,51.73 250.52,38.76 251.4,31.5C252.28,24.24 252.07,20.97 253.1,19.1C254.13,17.23 254.96,23.73 256.1,23C257.24,22.27 257.49,18.44 258.3,15.8C259.11,13.16 259.14,10.49 259.8,11C260.46,11.51 260.4,12.86 261.3,18.1C262.2,23.34 262.89,26.15 263.9,34.8C264.91,43.45 265.13,49.5 265.9,57.4C266.67,65.3 266.74,72.35 267.4,70.7C268.06,69.05 268.31,61.14 268.9,49.9C269.49,38.66 269.59,28.64 270.1,19.6C270.61,10.56 270.63,9.46 271.2,8.8C271.77,8.14 271.97,12.88 272.7,16.6C273.43,20.32 273.58,22.8 274.5,25.7C275.42,28.6 275.98,30.46 276.9,29.8C277.82,29.14 277.97,26.26 278.7,22.7C279.43,19.14 279.54,11.95 280.2,13.6C280.86,15.25 280.86,21.55 281.7,30.2C282.54,38.85 282.99,51.4 284,52.9C285.01,54.4 285.31,40.83 286.3,37C287.29,33.17 287.58,38.98 288.5,35.5C289.42,32.02 289.73,25.95 290.5,21.2C291.27,16.45 291.34,13.57 292,13.9C292.66,14.23 292.77,17.11 293.5,22.7C294.23,28.29 294.57,33.58 295.3,39.3C296.03,45.02 295.96,49.36 296.8,48.7C297.64,48.04 298.07,42.02 299.1,36.3C300.13,30.58 300.49,27.25 301.5,22.7C302.51,18.15 302.89,15.78 303.7,15.6C304.51,15.42 304.45,18.18 305.2,21.9C305.95,25.62 306.33,32.83 307.1,32.5C307.87,32.17 308.04,24.23 308.7,20.4C309.36,16.57 309.46,13.93 310.1,15.1C310.74,16.27 310.9,20.88 311.6,25.7C312.3,30.52 312.53,34.27 313.3,37C314.07,39.73 314.26,37 315.1,38.1C315.94,39.2 316.26,43.08 317.1,42C317.94,40.92 318.11,37.29 318.9,33.2C319.69,29.11 320.04,25.97 320.7,23.4C321.36,20.83 321.31,20.66 321.9,21.5C322.49,22.34 322.74,24.27 323.4,27.2C324.06,30.13 324.31,35.46 324.9,34.8C325.49,34.14 325.59,27.63 326.1,24.2C326.61,20.77 326.69,18.21 327.2,19.2C327.71,20.19 327.74,22.96 328.4,28.7C329.06,34.44 329.47,44.31 330.2,45.3C330.93,46.29 330.97,39.12 331.7,33.2C332.43,27.28 332.75,20.05 333.5,18.4C334.25,16.75 334.2,21.81 335.1,25.7C336,29.59 336.68,35.35 337.6,36.1C338.52,36.85 338.6,31.76 339.3,29.1C340,26.44 340.14,24.09 340.8,24C341.46,23.91 341.57,26.28 342.3,28.7C343.03,31.12 343.37,34.82 344.1,35C344.83,35.18 345.01,31.28 345.6,29.5C346.19,27.72 346.1,25.54 346.8,26.9C347.5,28.26 347.96,35.46 348.8,35.7C349.64,35.94 349.81,31.19 350.6,28C351.39,24.81 351.63,21.38 352.4,21.2C353.17,21.02 353.51,25.99 354.1,27.2C354.69,28.41 354.64,28.02 355.1,26.7C355.56,25.38 355.69,20.43 356.2,21.2C356.71,21.97 356.89,24.74 357.4,30.2C357.91,35.66 357.99,40.9 358.5,46C359.01,51.1 359.17,55.2 359.7,53.4C360.23,51.6 360.42,45.24 360.9,37.8C361.38,30.36 361.44,24.92 361.9,19.6C362.36,14.28 362.49,13.6 363,13.6C363.51,13.6 363.61,15.62 364.2,19.6C364.79,23.58 365.04,27.81 365.7,31.7C366.36,35.59 366.47,37.96 367.2,37.3C367.93,36.64 368.16,32.66 369,28.7C369.84,24.74 370.23,20.14 371,19.3C371.77,18.46 371.66,22.17 372.5,24.9C373.34,27.63 373.81,30.36 374.8,31.7C375.79,33.04 376.01,31.4 377,31C377.99,30.6 378.29,30.91 379.3,29.9C380.31,28.89 380.61,26.99 381.6,26.4C382.59,25.81 383.32,27.02 383.8,27.2" fill="none" stroke="#000" stroke-width="1.5" stroke-linejoin="round" stroke-linecap="round"/>
<text x="32" y="16.8" font-size="8.2" text-anchor="start" font-weight="bold" font-style="normal" fill="#111">A</text>
<text x="221" y="15.8" font-size="8.2" text-anchor="start" font-weight="bold" font-style="normal" fill="#111">B</text>
<rect x="27" y="79.2" width="164" height="108" fill="#1cb6bc"/><g clip-path="url(#clipa)"><g><rect x="25" y="79.2" width="168" height="108" fill="url(#ga0)"/>
<rect x="25" y="106.2" width="168" height="81" fill="url(#ga1)"/>
<rect x="25" y="133.2" width="168" height="54" fill="url(#ga2)"/>
<rect x="25" y="160.2" width="168" height="27" fill="url(#ga3)"/></g></g>
<rect x="216.5" y="79.2" width="168.1" height="108" fill="#21b8b6"/><g clip-path="url(#clipb)"><g><rect x="214.5" y="79.2" width="172.1" height="108" fill="url(#gb0)"/>
<rect x="214.5" y="106.2" width="172.1" height="81" fill="url(#gb1)"/>
<rect x="214.5" y="133.2" width="172.1" height="54" fill="url(#gb2)"/>
<rect x="214.5" y="160.2" width="172.1" height="27" fill="url(#gb3)"/></g></g>
<rect x="27" y="79.2" width="164" height="108" fill="none" stroke="#333" stroke-width="0.6"/>
<path d="M27,92.7h-1.6M191,92.7h-1.6" stroke="#222" stroke-width="0.6"/>
<path d="M27,119.7h-1.6M191,119.7h-1.6" stroke="#222" stroke-width="0.6"/>
<path d="M27,146.7h-1.6M191,146.7h-1.6" stroke="#222" stroke-width="0.6"/>
<path d="M27,173.7h-1.6M191,173.7h-1.6" stroke="#222" stroke-width="0.6"/>
<rect x="216.5" y="79.2" width="168.1" height="108" fill="none" stroke="#333" stroke-width="0.6"/>
<path d="M216.5,92.7h-1.6M384.6,92.7h-1.6" stroke="#222" stroke-width="0.6"/>
<path d="M216.5,119.7h-1.6M384.6,119.7h-1.6" stroke="#222" stroke-width="0.6"/>
<path d="M216.5,146.7h-1.6M384.6,146.7h-1.6" stroke="#222" stroke-width="0.6"/>
<path d="M216.5,173.7h-1.6M384.6,173.7h-1.6" stroke="#222" stroke-width="0.6"/>
<path d="M27.3,187.2v-1.8" stroke="#222" stroke-width="0.6"/>
<text x="27.3" y="199" font-size="7.1" text-anchor="middle" font-weight="normal" font-style="normal" fill="#1a1a1a">1800</text>
<path d="M45.5,187.2v-1.8" stroke="#222" stroke-width="0.6"/>
<text x="45.5" y="199" font-size="7.1" text-anchor="middle" font-weight="normal" font-style="normal" fill="#1a1a1a">1700</text>
<path d="M63.7,187.2v-1.8" stroke="#222" stroke-width="0.6"/>
<text x="63.7" y="199" font-size="7.1" text-anchor="middle" font-weight="normal" font-style="normal" fill="#1a1a1a">1600</text>
<path d="M81.9,187.2v-1.8" stroke="#222" stroke-width="0.6"/>
<text x="81.9" y="199" font-size="7.1" text-anchor="middle" font-weight="normal" font-style="normal" fill="#1a1a1a">1500</text>
<path d="M100.1,187.2v-1.8" stroke="#222" stroke-width="0.6"/>
<text x="100.1" y="199" font-size="7.1" text-anchor="middle" font-weight="normal" font-style="normal" fill="#1a1a1a">1400</text>
<path d="M118.3,187.2v-1.8" stroke="#222" stroke-width="0.6"/>
<text x="118.3" y="199" font-size="7.1" text-anchor="middle" font-weight="normal" font-style="normal" fill="#1a1a1a">1300</text>
<path d="M136.5,187.2v-1.8" stroke="#222" stroke-width="0.6"/>
<text x="136.5" y="199" font-size="7.1" text-anchor="middle" font-weight="normal" font-style="normal" fill="#1a1a1a">1200</text>
<path d="M154.7,187.2v-1.8" stroke="#222" stroke-width="0.6"/>
<text x="154.7" y="199" font-size="7.1" text-anchor="middle" font-weight="normal" font-style="normal" fill="#1a1a1a">1100</text>
<path d="M172.9,187.2v-1.8" stroke="#222" stroke-width="0.6"/>
<text x="172.9" y="199" font-size="7.1" text-anchor="middle" font-weight="normal" font-style="normal" fill="#1a1a1a">1000</text>
<path d="M191.1,187.2v-1.8" stroke="#222" stroke-width="0.6"/>
<text x="191.1" y="199" font-size="7.1" text-anchor="middle" font-weight="normal" font-style="normal" fill="#1a1a1a">900</text>
<path d="M216.6,187.2v-1.8" stroke="#222" stroke-width="0.6"/>
<text x="216.6" y="199" font-size="7.1" text-anchor="middle" font-weight="normal" font-style="normal" fill="#1a1a1a">1800</text>
<path d="M246.1,187.2v-1.8" stroke="#222" stroke-width="0.6"/>
<text x="246.1" y="199" font-size="7.1" text-anchor="middle" font-weight="normal" font-style="normal" fill="#1a1a1a">1600</text>
<path d="M274.6,187.2v-1.8" stroke="#222" stroke-width="0.6"/>
<text x="274.6" y="199" font-size="7.1" text-anchor="middle" font-weight="normal" font-style="normal" fill="#1a1a1a">1400</text>
<path d="M302.5,187.2v-1.8" stroke="#222" stroke-width="0.6"/>
<text x="302.5" y="199" font-size="7.1" text-anchor="middle" font-weight="normal" font-style="normal" fill="#1a1a1a">1200</text>
<path d="M330.5,187.2v-1.8" stroke="#222" stroke-width="0.6"/>
<text x="330.5" y="199" font-size="7.1" text-anchor="middle" font-weight="normal" font-style="normal" fill="#1a1a1a">1000</text>
<path d="M358.2,187.2v-1.8" stroke="#222" stroke-width="0.6"/>
<text x="358.2" y="199" font-size="7.1" text-anchor="middle" font-weight="normal" font-style="normal" fill="#1a1a1a">800</text>
<path d="M384.4,187.2v-1.8" stroke="#222" stroke-width="0.6"/>
<text x="384.4" y="199" font-size="7.1" text-anchor="middle" font-weight="normal" font-style="normal" fill="#1a1a1a">600</text>
<text x="76.3" y="210" font-size="9.0" font-weight="bold" fill="#111" textLength="77.1" lengthAdjust="spacingAndGlyphs">Wavenumber [cm<tspan font-size="6" dy="-3.4">-1</tspan><tspan dy="3.4">]</tspan></text>
<text x="262" y="210" font-size="9.0" font-weight="bold" fill="#111" textLength="77.3" lengthAdjust="spacingAndGlyphs">Wavenumber [cm<tspan font-size="6" dy="-3.4">-1</tspan><tspan dy="3.4">]</tspan></text>
<text x="12.9" y="127.3" font-size="8.8" text-anchor="middle" font-weight="bold" font-style="normal" fill="#111" transform="rotate(-90 12.9 127.3)" textLength="43.6" lengthAdjust="spacingAndGlyphs">Time [min]</text>
<text x="21.8" y="92.7" font-size="7" text-anchor="middle" font-weight="normal" font-style="normal" fill="#111" transform="rotate(-90 21.8 92.7)" textLength="21.2" lengthAdjust="spacingAndGlyphs">30 min</text>
<text x="21.8" y="120.5" font-size="7" text-anchor="middle" font-weight="normal" font-style="normal" fill="#111" transform="rotate(-90 21.8 120.5)" textLength="20.4" lengthAdjust="spacingAndGlyphs">60 min</text>
<text x="21.8" y="147.8" font-size="7" text-anchor="middle" font-weight="normal" font-style="normal" fill="#111" transform="rotate(-90 21.8 147.8)" textLength="20.4" lengthAdjust="spacingAndGlyphs">90 min</text>
<text x="21.8" y="174.2" font-size="7" text-anchor="middle" font-weight="normal" font-style="normal" fill="#111" transform="rotate(-90 21.8 174.2)" textLength="24.2" lengthAdjust="spacingAndGlyphs">120 min</text>
<text x="202.5" y="127.3" font-size="8.8" text-anchor="middle" font-weight="bold" font-style="normal" fill="#111" transform="rotate(-90 202.5 127.3)" textLength="43.6" lengthAdjust="spacingAndGlyphs">Time [min]</text>
<text x="211.4" y="92.7" font-size="7" text-anchor="middle" font-weight="normal" font-style="normal" fill="#111" transform="rotate(-90 211.4 92.7)" textLength="21.2" lengthAdjust="spacingAndGlyphs">30 min</text>
<text x="211.4" y="120.5" font-size="7" text-anchor="middle" font-weight="normal" font-style="normal" fill="#111" transform="rotate(-90 211.4 120.5)" textLength="20.4" lengthAdjust="spacingAndGlyphs">60 min</text>
<text x="211.4" y="147.8" font-size="7" text-anchor="middle" font-weight="normal" font-style="normal" fill="#111" transform="rotate(-90 211.4 147.8)" textLength="20.4" lengthAdjust="spacingAndGlyphs">90 min</text>
<text x="211.4" y="174.2" font-size="7" text-anchor="middle" font-weight="normal" font-style="normal" fill="#111" transform="rotate(-90 211.4 174.2)" textLength="24.2" lengthAdjust="spacingAndGlyphs">120 min</text>
<rect x="13.1" y="218.2" width="183.3" height="16.6" rx="3" ry="3" fill="#eeeeee"/>
<rect x="205.1" y="218.2" width="183.8" height="16.6" rx="3" ry="3" fill="#eeeeee"/>
<text x="20.7" y="230.3" font-size="9.6" text-anchor="start" font-weight="bold" font-style="normal" fill="#111" textLength="5.7" lengthAdjust="spacingAndGlyphs">C</text>
<text x="210.9" y="230.3" font-size="9.6" text-anchor="start" font-weight="bold" font-style="normal" fill="#111" textLength="6.0" lengthAdjust="spacingAndGlyphs">D</text>
<text x="58.4" y="230.4" font-size="9.5" text-anchor="start" font-weight="bold" font-style="normal" fill="#111" textLength="93.2" lengthAdjust="spacingAndGlyphs">Infrared spectroscopy</text>
<text x="253" y="230.4" font-size="9.5" text-anchor="start" font-weight="bold" font-style="normal" fill="#111" textLength="88.8" lengthAdjust="spacingAndGlyphs">Raman spectroscopy</text>
<text x="68.2" y="253.1" font-size="7.05" text-anchor="middle" font-weight="bold" font-style="italic" fill="#111" stroke="#111" stroke-width="0.12">964 cm<tspan font-size="4" dy="-3">-1</tspan></text>
<rect x="36.8" y="313.4" width="9" height="24.9" fill="#0000ff"/>
<rect x="50.32" y="295.5" width="9" height="42.8" fill="#008000"/>
<rect x="63.84" y="281.6" width="9" height="56.7" fill="#ff0000"/>
<rect x="77.36" y="283.7" width="9" height="54.6" fill="#7030a0"/>
<rect x="90.88" y="290.8" width="9" height="47.5" fill="#ffc000"/>
<rect x="34.7" y="255.4" width="67.3" height="82.9" fill="none" stroke="#333" stroke-width="0.95"/>
<path d="M34.7,255.4h-2.3" stroke="#333" stroke-width="0.85"/>
<text x="29.2" y="257.35" font-size="5.5" text-anchor="end" font-weight="normal" font-style="normal" fill="#2a2a2a">0.3</text>
<path d="M34.7,269.2h-2.3" stroke="#333" stroke-width="0.85"/>
<text x="29.2" y="271.15" font-size="5.5" text-anchor="end" font-weight="normal" font-style="normal" fill="#2a2a2a">0.25</text>
<path d="M34.7,283h-2.3" stroke="#333" stroke-width="0.85"/>
<text x="29.2" y="284.95" font-size="5.5" text-anchor="end" font-weight="normal" font-style="normal" fill="#2a2a2a">0.2</text>
<path d="M34.7,296.9h-2.3" stroke="#333" stroke-width="0.85"/>
<text x="29.2" y="298.85" font-size="5.5" text-anchor="end" font-weight="normal" font-style="normal" fill="#2a2a2a">0.15</text>
<path d="M34.7,310.7h-2.3" stroke="#333" stroke-width="0.85"/>
<text x="29.2" y="312.65" font-size="5.5" text-anchor="end" font-weight="normal" font-style="normal" fill="#2a2a2a">0.1</text>
<path d="M34.7,324.5h-2.3" stroke="#333" stroke-width="0.85"/>
<text x="29.2" y="326.45" font-size="5.5" text-anchor="end" font-weight="normal" font-style="normal" fill="#2a2a2a">0.05</text>
<path d="M34.7,338.3h-2.3" stroke="#333" stroke-width="0.85"/>
<text x="29.2" y="340.25" font-size="5.5" text-anchor="end" font-weight="normal" font-style="normal" fill="#2a2a2a">0</text>
<path d="M41.3,308.1V318.5M39.1,308.1h4.4M39.1,318.5h4.4" stroke="#333" stroke-width="0.6" fill="none"/>
<path d="M54.82,288.3V302.8M52.62,288.3h4.4M52.62,302.8h4.4" stroke="#333" stroke-width="0.6" fill="none"/>
<path d="M68.34,272.5V290M66.14,272.5h4.4M66.14,290h4.4" stroke="#333" stroke-width="0.6" fill="none"/>
<path d="M81.86,278.6V288.7M79.66,278.6h4.4M79.66,288.7h4.4" stroke="#333" stroke-width="0.6" fill="none"/>
<path d="M95.38,283.2V297.7M93.18,283.2h4.4M93.18,297.7h4.4" stroke="#333" stroke-width="0.6" fill="none"/>
<path d="M40.1,276.5V274.2H55.6V276.5M47.85,274.2v-1" stroke="#222" stroke-width="0.8" fill="none"/>
<text x="48.05" y="269.5" font-size="7.6" text-anchor="middle" font-weight="bold" font-style="normal" fill="#111" letter-spacing="0.4" stroke="#111" stroke-width="0.22">***</text>
<text x="156.3" y="253.4" font-size="7.05" text-anchor="middle" font-weight="bold" font-style="italic" fill="#111" stroke="#111" stroke-width="0.12">1215 cm<tspan font-size="4" dy="-3">-1</tspan></text>
<rect x="123.3" y="311" width="9" height="29" fill="#0000ff"/>
<rect x="136.83" y="282" width="9" height="58" fill="#008000"/>
<rect x="150.36" y="274.7" width="9" height="65.3" fill="#ff0000"/>
<rect x="163.89" y="275.2" width="9" height="64.8" fill="#7030a0"/>
<rect x="177.42" y="280.3" width="9" height="59.7" fill="#ffc000"/>
<rect x="120.7" y="257.8" width="68" height="82.2" fill="none" stroke="#333" stroke-width="0.95"/>
<path d="M120.7,257.8h-2.3" stroke="#333" stroke-width="0.85"/>
<text x="115.2" y="259.75" font-size="5.5" text-anchor="end" font-weight="normal" font-style="normal" fill="#2a2a2a">0.2</text>
<path d="M120.7,278.3h-2.3" stroke="#333" stroke-width="0.85"/>
<text x="115.2" y="280.25" font-size="5.5" text-anchor="end" font-weight="normal" font-style="normal" fill="#2a2a2a">0.15</text>
<path d="M120.7,298.9h-2.3" stroke="#333" stroke-width="0.85"/>
<text x="115.2" y="300.85" font-size="5.5" text-anchor="end" font-weight="normal" font-style="normal" fill="#2a2a2a">0.1</text>
<path d="M120.7,319.5h-2.3" stroke="#333" stroke-width="0.85"/>
<text x="115.2" y="321.45" font-size="5.5" text-anchor="end" font-weight="normal" font-style="normal" fill="#2a2a2a">0.05</text>
<path d="M120.7,340h-2.3" stroke="#333" stroke-width="0.85"/>
<text x="115.2" y="341.95" font-size="5.5" text-anchor="end" font-weight="normal" font-style="normal" fill="#2a2a2a">0</text>
<path d="M127.8,303.3V318.2M125.6,303.3h4.4M125.6,318.2h4.4" stroke="#333" stroke-width="0.6" fill="none"/>
<path d="M141.33,272.3V291.2M139.13,272.3h4.4M139.13,291.2h4.4" stroke="#333" stroke-width="0.6" fill="none"/>
<path d="M154.86,265.3V283.9M152.66,265.3h4.4M152.66,283.9h4.4" stroke="#333" stroke-width="0.6" fill="none"/>
<path d="M168.39,267.5V282.7M166.19,267.5h4.4M166.19,282.7h4.4" stroke="#333" stroke-width="0.6" fill="none"/>
<path d="M181.92,274.2V285.6M179.72,274.2h4.4M179.72,285.6h4.4" stroke="#333" stroke-width="0.6" fill="none"/>
<path d="M126.6,270.7V268.4H141.6V270.7M134.1,268.4v-1" stroke="#222" stroke-width="0.8" fill="none"/>
<text x="134.3" y="264.3" font-size="7.6" text-anchor="middle" font-weight="bold" font-style="normal" fill="#111" letter-spacing="0.4" stroke="#111" stroke-width="0.22">***</text>
<text x="71.6" y="348.6" font-size="7.05" text-anchor="middle" font-weight="bold" font-style="italic" fill="#111" stroke="#111" stroke-width="0.12">1035 cm<tspan font-size="4" dy="-3">-1</tspan></text>
<rect x="36.8" y="422.3" width="9" height="12.9" fill="#0000ff"/>
<rect x="50.32" y="384.8" width="9" height="50.4" fill="#008000"/>
<rect x="63.84" y="377" width="9" height="58.2" fill="#ff0000"/>
<rect x="77.36" y="417" width="9" height="18.2" fill="#7030a0"/>
<rect x="90.88" y="419.1" width="9" height="16.1" fill="#ffc000"/>
<rect x="34.7" y="352.1" width="67.3" height="83.1" fill="none" stroke="#333" stroke-width="0.95"/>
<path d="M34.7,352.1h-2.3" stroke="#333" stroke-width="0.85"/>
<text x="29.2" y="354.05" font-size="5.5" text-anchor="end" font-weight="normal" font-style="normal" fill="#2a2a2a">0.2</text>
<path d="M34.7,372.9h-2.3" stroke="#333" stroke-width="0.85"/>
<text x="29.2" y="374.85" font-size="5.5" text-anchor="end" font-weight="normal" font-style="normal" fill="#2a2a2a">0.15</text>
<path d="M34.7,393.7h-2.3" stroke="#333" stroke-width="0.85"/>
<text x="29.2" y="395.65" font-size="5.5" text-anchor="end" font-weight="normal" font-style="normal" fill="#2a2a2a">0.1</text>
<path d="M34.7,414.4h-2.3" stroke="#333" stroke-width="0.85"/>
<text x="29.2" y="416.35" font-size="5.5" text-anchor="end" font-weight="normal" font-style="normal" fill="#2a2a2a">0.05</text>
<path d="M34.7,435.2h-2.3" stroke="#333" stroke-width="0.85"/>
<text x="29.2" y="437.15" font-size="5.5" text-anchor="end" font-weight="normal" font-style="normal" fill="#2a2a2a">0</text>
<path d="M41.3,418.6V425.9M39.1,418.6h4.4M39.1,425.9h4.4" stroke="#333" stroke-width="0.6" fill="none"/>
<path d="M54.82,377.5V392M52.62,377.5h4.4M52.62,392h4.4" stroke="#333" stroke-width="0.6" fill="none"/>
<path d="M68.34,371.5V382.4M66.14,371.5h4.4M66.14,382.4h4.4" stroke="#333" stroke-width="0.6" fill="none"/>
<path d="M81.86,412.6V420.6M79.66,412.6h4.4M79.66,420.6h4.4" stroke="#333" stroke-width="0.6" fill="none"/>
<path d="M95.38,415.5V422.8M93.18,415.5h4.4M93.18,422.8h4.4" stroke="#333" stroke-width="0.6" fill="none"/>
<path d="M40.6,373.3V371H55.6V373.3M48.1,371v-1" stroke="#222" stroke-width="0.8" fill="none"/>
<text x="48.3" y="366.3" font-size="7.6" text-anchor="middle" font-weight="bold" font-style="normal" fill="#111" letter-spacing="0.4" stroke="#111" stroke-width="0.22">***</text>
<path d="M67.7,368.7V366.4H82.9V368.7M75.3,366.4v-1" stroke="#222" stroke-width="0.8" fill="none"/>
<text x="75.5" y="362.2" font-size="7.6" text-anchor="middle" font-weight="bold" font-style="normal" fill="#111" letter-spacing="0.4" stroke="#111" stroke-width="0.22">***</text>
<text x="160" y="349.7" font-size="7.05" text-anchor="middle" font-weight="bold" font-style="italic" fill="#111" stroke="#111" stroke-width="0.12">1082 cm<tspan font-size="4" dy="-3">-1</tspan></text>
<rect x="124.9" y="396.4" width="9" height="39.6" fill="#0000ff"/>
<rect x="138.45" y="404.1" width="9" height="31.9" fill="#008000"/>
<rect x="152" y="394.9" width="9" height="41.1" fill="#ff0000"/>
<rect x="165.55" y="376.3" width="9" height="59.7" fill="#7030a0"/>
<rect x="179.1" y="375.1" width="9" height="60.9" fill="#ffc000"/>
<rect x="122" y="352.9" width="68.2" height="83.1" fill="none" stroke="#333" stroke-width="0.95"/>
<path d="M122,352.9h-2.3" stroke="#333" stroke-width="0.85"/>
<text x="116.5" y="354.85" font-size="5.5" text-anchor="end" font-weight="normal" font-style="normal" fill="#2a2a2a">0.3</text>
<path d="M122,366.7h-2.3" stroke="#333" stroke-width="0.85"/>
<text x="116.5" y="368.65" font-size="5.5" text-anchor="end" font-weight="normal" font-style="normal" fill="#2a2a2a">0.25</text>
<path d="M122,380.6h-2.3" stroke="#333" stroke-width="0.85"/>
<text x="116.5" y="382.55" font-size="5.5" text-anchor="end" font-weight="normal" font-style="normal" fill="#2a2a2a">0.2</text>
<path d="M122,394.5h-2.3" stroke="#333" stroke-width="0.85"/>
<text x="116.5" y="396.45" font-size="5.5" text-anchor="end" font-weight="normal" font-style="normal" fill="#2a2a2a">0.15</text>
<path d="M122,408.3h-2.3" stroke="#333" stroke-width="0.85"/>
<text x="116.5" y="410.25" font-size="5.5" text-anchor="end" font-weight="normal" font-style="normal" fill="#2a2a2a">0.1</text>
<path d="M122,422.2h-2.3" stroke="#333" stroke-width="0.85"/>
<text x="116.5" y="424.15" font-size="5.5" text-anchor="end" font-weight="normal" font-style="normal" fill="#2a2a2a">0.05</text>
<path d="M122,436h-2.3" stroke="#333" stroke-width="0.85"/>
<text x="116.5" y="437.95" font-size="5.5" text-anchor="end" font-weight="normal" font-style="normal" fill="#2a2a2a">0</text>
<path d="M129.4,390.1V402.9M127.2,390.1h4.4M127.2,402.9h4.4" stroke="#333" stroke-width="0.6" fill="none"/>
<path d="M142.95,396.4V411.4M140.75,396.4h4.4M140.75,411.4h4.4" stroke="#333" stroke-width="0.6" fill="none"/>
<path d="M156.5,386.5V402.9M154.3,386.5h4.4M154.3,402.9h4.4" stroke="#333" stroke-width="0.6" fill="none"/>
<path d="M170.05,370.3V381.6M167.85,370.3h4.4M167.85,381.6h4.4" stroke="#333" stroke-width="0.6" fill="none"/>
<path d="M183.6,369.6V380M181.4,369.6h4.4M181.4,380h4.4" stroke="#333" stroke-width="0.6" fill="none"/>
<path d="M155.6,367.2V364.9H170.1V367.2M162.85,364.9v-1" stroke="#222" stroke-width="0.8" fill="none"/>
<text x="163.05" y="360.8" font-size="7.6" text-anchor="middle" font-weight="bold" font-style="normal" fill="#111" letter-spacing="0.4" stroke="#111" stroke-width="0.22">***</text>
<text x="72.4" y="446.2" font-size="7.05" text-anchor="middle" font-weight="bold" font-style="italic" fill="#111" stroke="#111" stroke-width="0.12">1394 cm<tspan font-size="4" dy="-3">-1</tspan></text>
<rect x="36.8" y="468.7" width="9" height="62.7" fill="#0000ff"/>
<rect x="50.32" y="489.3" width="9" height="42.1" fill="#008000"/>
<rect x="63.84" y="491.2" width="9" height="40.2" fill="#ff0000"/>
<rect x="77.36" y="490" width="9" height="41.4" fill="#7030a0"/>
<rect x="90.88" y="482.7" width="9" height="48.7" fill="#ffc000"/>
<rect x="34.7" y="447.7" width="67.3" height="83.7" fill="none" stroke="#333" stroke-width="0.95"/>
<path d="M34.7,447.7h-2.3" stroke="#333" stroke-width="0.85"/>
<text x="29.2" y="449.65" font-size="5.5" text-anchor="end" font-weight="normal" font-style="normal" fill="#2a2a2a">0.7</text>
<path d="M34.7,459.7h-2.3" stroke="#333" stroke-width="0.85"/>
<text x="29.2" y="461.65" font-size="5.5" text-anchor="end" font-weight="normal" font-style="normal" fill="#2a2a2a">0.6</text>
<path d="M34.7,471.6h-2.3" stroke="#333" stroke-width="0.85"/>
<text x="29.2" y="473.55" font-size="5.5" text-anchor="end" font-weight="normal" font-style="normal" fill="#2a2a2a">0.5</text>
<path d="M34.7,483.6h-2.3" stroke="#333" stroke-width="0.85"/>
<text x="29.2" y="485.55" font-size="5.5" text-anchor="end" font-weight="normal" font-style="normal" fill="#2a2a2a">0.4</text>
<path d="M34.7,495.5h-2.3" stroke="#333" stroke-width="0.85"/>
<text x="29.2" y="497.45" font-size="5.5" text-anchor="end" font-weight="normal" font-style="normal" fill="#2a2a2a">0.3</text>
<path d="M34.7,507.5h-2.3" stroke="#333" stroke-width="0.85"/>
<text x="29.2" y="509.45" font-size="5.5" text-anchor="end" font-weight="normal" font-style="normal" fill="#2a2a2a">0.2</text>
<path d="M34.7,519.4h-2.3" stroke="#333" stroke-width="0.85"/>
<text x="29.2" y="521.35" font-size="5.5" text-anchor="end" font-weight="normal" font-style="normal" fill="#2a2a2a">0.1</text>
<path d="M34.7,531.4h-2.3" stroke="#333" stroke-width="0.85"/>
<text x="29.2" y="533.35" font-size="5.5" text-anchor="end" font-weight="normal" font-style="normal" fill="#2a2a2a">0</text>
<path d="M41.3,463.1V474.3M39.1,463.1h4.4M39.1,474.3h4.4" stroke="#333" stroke-width="0.6" fill="none"/>
<path d="M54.82,484.4V494.1M52.62,484.4h4.4M52.62,494.1h4.4" stroke="#333" stroke-width="0.6" fill="none"/>
<path d="M68.34,485.1V497M66.14,485.1h4.4M66.14,497h4.4" stroke="#333" stroke-width="0.6" fill="none"/>
<path d="M81.86,487.3V492.9M79.66,487.3h4.4M79.66,492.9h4.4" stroke="#333" stroke-width="0.6" fill="none"/>
<path d="M95.38,477.9V487.6M93.18,477.9h4.4M93.18,487.6h4.4" stroke="#333" stroke-width="0.6" fill="none"/>
<path d="M40.1,461V458.7H55.6V461M47.85,458.7v-1" stroke="#222" stroke-width="0.8" fill="none"/>
<text x="48.05" y="454.6" font-size="7.6" text-anchor="middle" font-weight="bold" font-style="normal" fill="#111" letter-spacing="0.4" stroke="#111" stroke-width="0.22">***</text>
<text x="156.3" y="446.2" font-size="7.05" text-anchor="middle" font-weight="bold" font-style="italic" fill="#111" stroke="#111" stroke-width="0.12">Amide II</text>
<rect x="124.9" y="473.5" width="9" height="58.8" fill="#0000ff"/>
<rect x="138.45" y="481.3" width="9" height="51" fill="#008000"/>
<rect x="152" y="488" width="9" height="44.3" fill="#ff0000"/>
<rect x="165.55" y="489.7" width="9" height="42.6" fill="#7030a0"/>
<rect x="179.1" y="482" width="9" height="50.3" fill="#ffc000"/>
<rect x="122" y="448.9" width="68.2" height="83.4" fill="none" stroke="#333" stroke-width="0.95"/>
<path d="M122,454.9h-2.3" stroke="#333" stroke-width="0.85"/>
<text x="116.5" y="456.85" font-size="5.5" text-anchor="end" font-weight="normal" font-style="normal" fill="#2a2a2a">1.2</text>
<path d="M122,467.8h-2.3" stroke="#333" stroke-width="0.85"/>
<text x="116.5" y="469.75" font-size="5.5" text-anchor="end" font-weight="normal" font-style="normal" fill="#2a2a2a">1</text>
<path d="M122,480.7h-2.3" stroke="#333" stroke-width="0.85"/>
<text x="116.5" y="482.65" font-size="5.5" text-anchor="end" font-weight="normal" font-style="normal" fill="#2a2a2a">0.8</text>
<path d="M122,493.6h-2.3" stroke="#333" stroke-width="0.85"/>
<text x="116.5" y="495.55" font-size="5.5" text-anchor="end" font-weight="normal" font-style="normal" fill="#2a2a2a">0.6</text>
<path d="M122,506.5h-2.3" stroke="#333" stroke-width="0.85"/>
<text x="116.5" y="508.45" font-size="5.5" text-anchor="end" font-weight="normal" font-style="normal" fill="#2a2a2a">0.4</text>
<path d="M122,519.4h-2.3" stroke="#333" stroke-width="0.85"/>
<text x="116.5" y="521.35" font-size="5.5" text-anchor="end" font-weight="normal" font-style="normal" fill="#2a2a2a">0.2</text>
<path d="M122,532.3h-2.3" stroke="#333" stroke-width="0.85"/>
<text x="116.5" y="534.25" font-size="5.5" text-anchor="end" font-weight="normal" font-style="normal" fill="#2a2a2a">0</text>
<path d="M129.4,467.5V479.6M127.2,467.5h4.4M127.2,479.6h4.4" stroke="#333" stroke-width="0.6" fill="none"/>
<path d="M142.95,478.9V483.7M140.75,478.9h4.4M140.75,483.7h4.4" stroke="#333" stroke-width="0.6" fill="none"/>
<path d="M156.5,483.7V492.4M154.3,483.7h4.4M154.3,492.4h4.4" stroke="#333" stroke-width="0.6" fill="none"/>
<path d="M170.05,482V497.2M167.85,482h4.4M167.85,497.2h4.4" stroke="#333" stroke-width="0.6" fill="none"/>
<path d="M183.6,479.1V484.9M181.4,479.1h4.4M181.4,484.9h4.4" stroke="#333" stroke-width="0.6" fill="none"/>
<path d="M128.5,463.9V461.6H144V463.9M136.25,461.6v-1" stroke="#222" stroke-width="0.8" fill="none"/>
<text x="136.45" y="457.5" font-size="7.6" text-anchor="middle" font-weight="bold" font-style="normal" fill="#111" letter-spacing="0.4" stroke="#111" stroke-width="0.22">***</text>
<path d="M142.3,476V473.7H157.6V476M149.95,473.7v-1" stroke="#222" stroke-width="0.8" fill="none"/>
<text x="150.15" y="469.6" font-size="7.6" text-anchor="middle" font-weight="bold" font-style="normal" fill="#111" letter-spacing="0.4" stroke="#111" stroke-width="0.22">**</text>
<text x="255.8" y="253.3" font-size="7.05" text-anchor="middle" font-weight="bold" font-style="italic" fill="#111" stroke="#111" stroke-width="0.12">785 cm<tspan font-size="4" dy="-3">-1</tspan></text>
<rect x="224.3" y="299.1" width="9" height="39.7" fill="#0000ff"/>
<rect x="237.88" y="300.1" width="9" height="38.7" fill="#008000"/>
<rect x="251.46" y="277.9" width="9" height="60.9" fill="#ff0000"/>
<rect x="265.04" y="283.2" width="9" height="55.6" fill="#7030a0"/>
<rect x="278.62" y="299.1" width="9" height="39.7" fill="#ffc000"/>
<rect x="222.4" y="256.1" width="68" height="82.7" fill="none" stroke="#333" stroke-width="0.95"/>
<path d="M222.4,269.3h-2.3" stroke="#333" stroke-width="0.85"/>
<text x="216.9" y="271.25" font-size="5.5" text-anchor="end" font-weight="normal" font-style="normal" fill="#2a2a2a">0.8</text>
<path d="M222.4,286.7h-2.3" stroke="#333" stroke-width="0.85"/>
<text x="216.9" y="288.65" font-size="5.5" text-anchor="end" font-weight="normal" font-style="normal" fill="#2a2a2a">0.6</text>
<path d="M222.4,304.1h-2.3" stroke="#333" stroke-width="0.85"/>
<text x="216.9" y="306.05" font-size="5.5" text-anchor="end" font-weight="normal" font-style="normal" fill="#2a2a2a">0.4</text>
<path d="M222.4,321.4h-2.3" stroke="#333" stroke-width="0.85"/>
<text x="216.9" y="323.35" font-size="5.5" text-anchor="end" font-weight="normal" font-style="normal" fill="#2a2a2a">0.2</text>
<path d="M222.4,338.8h-2.3" stroke="#333" stroke-width="0.85"/>
<text x="216.9" y="340.75" font-size="5.5" text-anchor="end" font-weight="normal" font-style="normal" fill="#2a2a2a">0</text>
<path d="M228.8,293.1V305.2M226.6,293.1h4.4M226.6,305.2h4.4" stroke="#333" stroke-width="0.6" fill="none"/>
<path d="M242.38,295.3V304.5M240.18,295.3h4.4M240.18,304.5h4.4" stroke="#333" stroke-width="0.6" fill="none"/>
<path d="M255.96,275.4V280.3M253.76,275.4h4.4M253.76,280.3h4.4" stroke="#333" stroke-width="0.6" fill="none"/>
<path d="M269.54,278.6V287.5M267.34,278.6h4.4M267.34,287.5h4.4" stroke="#333" stroke-width="0.6" fill="none"/>
<path d="M283.12,296.5V301.6M280.92,296.5h4.4M280.92,301.6h4.4" stroke="#333" stroke-width="0.6" fill="none"/>
<path d="M239.9,271.4V269.1H255.6V271.4M247.75,269.1v-1" stroke="#222" stroke-width="0.8" fill="none"/>
<text x="247.95" y="264.7" font-size="7.6" text-anchor="middle" font-weight="bold" font-style="normal" fill="#111" letter-spacing="0.4" stroke="#111" stroke-width="0.22">***</text>
<text x="345.2" y="253.3" font-size="7.05" text-anchor="middle" font-weight="bold" font-style="italic" fill="#111" stroke="#111" stroke-width="0.12">1098 cm<tspan font-size="4" dy="-3">-1</tspan></text>
<rect x="312.8" y="292.9" width="9" height="45.9" fill="#0000ff"/>
<rect x="326.1" y="288.3" width="9" height="50.5" fill="#008000"/>
<rect x="339.4" y="279.1" width="9" height="59.7" fill="#ff0000"/>
<rect x="352.7" y="275" width="9" height="63.8" fill="#7030a0"/>
<rect x="366" y="282" width="9" height="56.8" fill="#ffc000"/>
<rect x="310.8" y="256.2" width="66" height="82.6" fill="none" stroke="#333" stroke-width="0.95"/>
<path d="M310.8,256.1h-2.3" stroke="#333" stroke-width="0.85"/>
<text x="305.3" y="258.05" font-size="5.5" text-anchor="end" font-weight="normal" font-style="normal" fill="#2a2a2a">1</text>
<path d="M310.8,272.6h-2.3" stroke="#333" stroke-width="0.85"/>
<text x="305.3" y="274.55" font-size="5.5" text-anchor="end" font-weight="normal" font-style="normal" fill="#2a2a2a">0.8</text>
<path d="M310.8,289.2h-2.3" stroke="#333" stroke-width="0.85"/>
<text x="305.3" y="291.15" font-size="5.5" text-anchor="end" font-weight="normal" font-style="normal" fill="#2a2a2a">0.6</text>
<path d="M310.8,305.7h-2.3" stroke="#333" stroke-width="0.85"/>
<text x="305.3" y="307.65" font-size="5.5" text-anchor="end" font-weight="normal" font-style="normal" fill="#2a2a2a">0.4</text>
<path d="M310.8,322.3h-2.3" stroke="#333" stroke-width="0.85"/>
<text x="305.3" y="324.25" font-size="5.5" text-anchor="end" font-weight="normal" font-style="normal" fill="#2a2a2a">0.2</text>
<path d="M310.8,338.8h-2.3" stroke="#333" stroke-width="0.85"/>
<text x="305.3" y="340.75" font-size="5.5" text-anchor="end" font-weight="normal" font-style="normal" fill="#2a2a2a">0</text>
<path d="M317.3,289.2V296.5M315.1,289.2h4.4M315.1,296.5h4.4" stroke="#333" stroke-width="0.6" fill="none"/>
<path d="M330.6,284.4V291.9M328.4,284.4h4.4M328.4,291.9h4.4" stroke="#333" stroke-width="0.6" fill="none"/>
<path d="M343.9,272.5V285.6M341.7,272.5h4.4M341.7,285.6h4.4" stroke="#333" stroke-width="0.6" fill="none"/>
<path d="M357.2,268.2V281.5M355,268.2h4.4M355,281.5h4.4" stroke="#333" stroke-width="0.6" fill="none"/>
<path d="M370.5,277.1V287.5M368.3,277.1h4.4M368.3,287.5h4.4" stroke="#333" stroke-width="0.6" fill="none"/>
<path d="M329.1,270.2V267.9H344.4V270.2M336.75,267.9v-1" stroke="#222" stroke-width="0.8" fill="none"/>
<text x="336.95" y="264.2" font-size="7.6" text-anchor="middle" font-weight="bold" font-style="normal" fill="#111" letter-spacing="0.4" stroke="#111" stroke-width="0.22">**</text>
<text x="258.8" y="349.7" font-size="7.05" text-anchor="middle" font-weight="bold" font-style="italic" fill="#111" stroke="#111" stroke-width="0.12">1045 cm<tspan font-size="4" dy="-3">-1</tspan></text>
<rect x="226.9" y="407.8" width="9" height="28.2" fill="#0000ff"/>
<rect x="240.5" y="378.7" width="9" height="57.3" fill="#008000"/>
<rect x="254.1" y="387.9" width="9" height="48.1" fill="#ff0000"/>
<rect x="267.7" y="395.7" width="9" height="40.3" fill="#7030a0"/>
<rect x="281.3" y="410.2" width="9" height="25.8" fill="#ffc000"/>
<rect x="224.6" y="352.9" width="67.8" height="83.1" fill="none" stroke="#333" stroke-width="0.95"/>
<path d="M224.6,352.9h-2.3" stroke="#333" stroke-width="0.85"/>
<text x="219.1" y="354.85" font-size="5.5" text-anchor="end" font-weight="normal" font-style="normal" fill="#2a2a2a">0.5</text>
<path d="M224.6,369.5h-2.3" stroke="#333" stroke-width="0.85"/>
<text x="219.1" y="371.45" font-size="5.5" text-anchor="end" font-weight="normal" font-style="normal" fill="#2a2a2a">0.4</text>
<path d="M224.6,386.1h-2.3" stroke="#333" stroke-width="0.85"/>
<text x="219.1" y="388.05" font-size="5.5" text-anchor="end" font-weight="normal" font-style="normal" fill="#2a2a2a">0.3</text>
<path d="M224.6,402.8h-2.3" stroke="#333" stroke-width="0.85"/>
<text x="219.1" y="404.75" font-size="5.5" text-anchor="end" font-weight="normal" font-style="normal" fill="#2a2a2a">0.2</text>
<path d="M224.6,419.4h-2.3" stroke="#333" stroke-width="0.85"/>
<text x="219.1" y="421.35" font-size="5.5" text-anchor="end" font-weight="normal" font-style="normal" fill="#2a2a2a">0.1</text>
<path d="M224.6,436h-2.3" stroke="#333" stroke-width="0.85"/>
<text x="219.1" y="437.95" font-size="5.5" text-anchor="end" font-weight="normal" font-style="normal" fill="#2a2a2a">0</text>
<path d="M231.4,404.6V410.9M229.2,404.6h4.4M229.2,410.9h4.4" stroke="#333" stroke-width="0.6" fill="none"/>
<path d="M245,370.3V387.2M242.8,370.3h4.4M242.8,387.2h4.4" stroke="#333" stroke-width="0.6" fill="none"/>
<path d="M258.6,383.1V393.3M256.4,383.1h4.4M256.4,393.3h4.4" stroke="#333" stroke-width="0.6" fill="none"/>
<path d="M272.2,392V399.3M270,392h4.4M270,399.3h4.4" stroke="#333" stroke-width="0.6" fill="none"/>
<path d="M285.8,404.9V415M283.6,404.9h4.4M283.6,415h4.4" stroke="#333" stroke-width="0.6" fill="none"/>
<path d="M230.2,368.4V366.1H245.2V368.4M237.7,366.1v-1" stroke="#222" stroke-width="0.8" fill="none"/>
<text x="237.9" y="362" font-size="7.6" text-anchor="middle" font-weight="bold" font-style="normal" fill="#111" letter-spacing="0.4" stroke="#111" stroke-width="0.22">***</text>
<path d="M272.6,389V386.7H287.1V389M279.85,386.7v-1" stroke="#222" stroke-width="0.8" fill="none"/>
<text x="280.05" y="382.5" font-size="7.6" text-anchor="middle" font-weight="bold" font-style="normal" fill="#111" letter-spacing="0.4" stroke="#111" stroke-width="0.22">***</text>
<text x="344.4" y="350.2" font-size="7.05" text-anchor="middle" font-weight="bold" font-style="italic" fill="#111" stroke="#111" stroke-width="0.12">1244 cm<tspan font-size="4" dy="-3">-1</tspan></text>
<rect x="312.5" y="400" width="9" height="36.2" fill="#0000ff"/>
<rect x="325.95" y="390.1" width="9" height="46.1" fill="#008000"/>
<rect x="339.4" y="377" width="9" height="59.2" fill="#ff0000"/>
<rect x="352.85" y="375.6" width="9" height="60.6" fill="#7030a0"/>
<rect x="366.3" y="389.1" width="9" height="47.1" fill="#ffc000"/>
<rect x="310.2" y="352.7" width="67.4" height="83.5" fill="none" stroke="#333" stroke-width="0.95"/>
<path d="M310.2,358.2h-2.3" stroke="#333" stroke-width="0.85"/>
<text x="304.7" y="360.15" font-size="5.5" text-anchor="end" font-weight="normal" font-style="normal" fill="#2a2a2a">1.5</text>
<path d="M310.2,384.2h-2.3" stroke="#333" stroke-width="0.85"/>
<text x="304.7" y="386.15" font-size="5.5" text-anchor="end" font-weight="normal" font-style="normal" fill="#2a2a2a">1</text>
<path d="M310.2,410.2h-2.3" stroke="#333" stroke-width="0.85"/>
<text x="304.7" y="412.15" font-size="5.5" text-anchor="end" font-weight="normal" font-style="normal" fill="#2a2a2a">0.5</text>
<path d="M310.2,436.2h-2.3" stroke="#333" stroke-width="0.85"/>
<text x="304.7" y="438.15" font-size="5.5" text-anchor="end" font-weight="normal" font-style="normal" fill="#2a2a2a">0</text>
<path d="M317,396.4V404.1M314.8,396.4h4.4M314.8,404.1h4.4" stroke="#333" stroke-width="0.6" fill="none"/>
<path d="M330.45,387.2V392.5M328.25,387.2h4.4M328.25,392.5h4.4" stroke="#333" stroke-width="0.6" fill="none"/>
<path d="M343.9,370.8V382.4M341.7,370.8h4.4M341.7,382.4h4.4" stroke="#333" stroke-width="0.6" fill="none"/>
<path d="M357.35,372.2V378.7M355.15,372.2h4.4M355.15,378.7h4.4" stroke="#333" stroke-width="0.6" fill="none"/>
<path d="M370.8,386.5V392M368.6,386.5h4.4M368.6,392h4.4" stroke="#333" stroke-width="0.6" fill="none"/>
<path d="M357.7,367.9V365.6H372.2V367.9M364.95,365.6v-1" stroke="#222" stroke-width="0.8" fill="none"/>
<text x="365.15" y="361" font-size="7.6" text-anchor="middle" font-weight="bold" font-style="normal" fill="#111" letter-spacing="0.4" stroke="#111" stroke-width="0.22">***</text>
<text x="260.7" y="446.5" font-size="7.05" text-anchor="middle" font-weight="bold" font-style="italic" fill="#111" stroke="#111" stroke-width="0.12">1453 cm<tspan font-size="4" dy="-3">-1</tspan></text>
<rect x="226.7" y="474.3" width="9" height="58" fill="#0000ff"/>
<rect x="240.3" y="492.4" width="9" height="39.9" fill="#008000"/>
<rect x="253.9" y="493.4" width="9" height="38.9" fill="#ff0000"/>
<rect x="267.5" y="498.4" width="9" height="33.9" fill="#7030a0"/>
<rect x="281.1" y="497.7" width="9" height="34.6" fill="#ffc000"/>
<rect x="224.4" y="448.9" width="67.8" height="83.4" fill="none" stroke="#333" stroke-width="0.95"/>
<path d="M224.4,448.9h-2.3" stroke="#333" stroke-width="0.85"/>
<text x="218.9" y="450.85" font-size="5.5" text-anchor="end" font-weight="normal" font-style="normal" fill="#2a2a2a">0.8</text>
<path d="M224.4,459.3h-2.3" stroke="#333" stroke-width="0.85"/>
<text x="218.9" y="461.25" font-size="5.5" text-anchor="end" font-weight="normal" font-style="normal" fill="#2a2a2a">0.7</text>
<path d="M224.4,469.8h-2.3" stroke="#333" stroke-width="0.85"/>
<text x="218.9" y="471.75" font-size="5.5" text-anchor="end" font-weight="normal" font-style="normal" fill="#2a2a2a">0.6</text>
<path d="M224.4,480.2h-2.3" stroke="#333" stroke-width="0.85"/>
<text x="218.9" y="482.15" font-size="5.5" text-anchor="end" font-weight="normal" font-style="normal" fill="#2a2a2a">0.5</text>
<path d="M224.4,490.6h-2.3" stroke="#333" stroke-width="0.85"/>
<text x="218.9" y="492.55" font-size="5.5" text-anchor="end" font-weight="normal" font-style="normal" fill="#2a2a2a">0.4</text>
<path d="M224.4,501h-2.3" stroke="#333" stroke-width="0.85"/>
<text x="218.9" y="502.95" font-size="5.5" text-anchor="end" font-weight="normal" font-style="normal" fill="#2a2a2a">0.3</text>
<path d="M224.4,511.5h-2.3" stroke="#333" stroke-width="0.85"/>
<text x="218.9" y="513.45" font-size="5.5" text-anchor="end" font-weight="normal" font-style="normal" fill="#2a2a2a">0.2</text>
<path d="M224.4,521.9h-2.3" stroke="#333" stroke-width="0.85"/>
<text x="218.9" y="523.85" font-size="5.5" text-anchor="end" font-weight="normal" font-style="normal" fill="#2a2a2a">0.1</text>
<path d="M224.4,532.3h-2.3" stroke="#333" stroke-width="0.85"/>
<text x="218.9" y="534.25" font-size="5.5" text-anchor="end" font-weight="normal" font-style="normal" fill="#2a2a2a">0</text>
<path d="M231.2,469.2V479.6M229,469.2h4.4M229,479.6h4.4" stroke="#333" stroke-width="0.6" fill="none"/>
<path d="M244.8,486.1V498.9M242.6,486.1h4.4M242.6,498.9h4.4" stroke="#333" stroke-width="0.6" fill="none"/>
<path d="M258.4,488V498.4M256.2,488h4.4M256.2,498.4h4.4" stroke="#333" stroke-width="0.6" fill="none"/>
<path d="M272,493.4V503.8M269.8,493.4h4.4M269.8,503.8h4.4" stroke="#333" stroke-width="0.6" fill="none"/>
<path d="M285.6,492.9V502.6M283.4,492.9h4.4M283.4,502.6h4.4" stroke="#333" stroke-width="0.6" fill="none"/>
<path d="M230.2,466.8V464.5H245.2V466.8M237.7,464.5v-1" stroke="#222" stroke-width="0.8" fill="none"/>
<text x="237.9" y="460.4" font-size="7.6" text-anchor="middle" font-weight="bold" font-style="normal" fill="#111" letter-spacing="0.4" stroke="#111" stroke-width="0.22">***</text>
<text x="345.4" y="446.4" font-size="7.05" text-anchor="middle" font-weight="bold" font-style="italic" fill="#111" stroke="#111" stroke-width="0.12">1483 cm<tspan font-size="4" dy="-3">-1</tspan></text>
<rect x="312.9" y="519" width="9" height="12.9" fill="#0000ff"/>
<rect x="326.35" y="498.2" width="9" height="33.7" fill="#008000"/>
<rect x="339.8" y="480.1" width="9" height="51.8" fill="#ff0000"/>
<rect x="353.25" y="467" width="9" height="64.9" fill="#7030a0"/>
<rect x="366.7" y="480.1" width="9" height="51.8" fill="#ffc000"/>
<rect x="310.4" y="448.6" width="67.6" height="83.3" fill="none" stroke="#333" stroke-width="0.95"/>
<path d="M310.4,456.1h-2.3" stroke="#333" stroke-width="0.85"/>
<text x="304.9" y="458.05" font-size="5.5" text-anchor="end" font-weight="normal" font-style="normal" fill="#2a2a2a">0.2</text>
<path d="M310.4,475.1h-2.3" stroke="#333" stroke-width="0.85"/>
<text x="304.9" y="477.05" font-size="5.5" text-anchor="end" font-weight="normal" font-style="normal" fill="#2a2a2a">0.15</text>
<path d="M310.4,494h-2.3" stroke="#333" stroke-width="0.85"/>
<text x="304.9" y="495.95" font-size="5.5" text-anchor="end" font-weight="normal" font-style="normal" fill="#2a2a2a">0.1</text>
<path d="M310.4,513h-2.3" stroke="#333" stroke-width="0.85"/>
<text x="304.9" y="514.95" font-size="5.5" text-anchor="end" font-weight="normal" font-style="normal" fill="#2a2a2a">0.05</text>
<path d="M310.4,531.9h-2.3" stroke="#333" stroke-width="0.85"/>
<text x="304.9" y="533.85" font-size="5.5" text-anchor="end" font-weight="normal" font-style="normal" fill="#2a2a2a">0</text>
<path d="M317.4,513.4V524.3M315.2,513.4h4.4M315.2,524.3h4.4" stroke="#333" stroke-width="0.6" fill="none"/>
<path d="M330.85,490.9V505M328.65,490.9h4.4M328.65,505h4.4" stroke="#333" stroke-width="0.6" fill="none"/>
<path d="M344.3,472.8V487.3M342.1,472.8h4.4M342.1,487.3h4.4" stroke="#333" stroke-width="0.6" fill="none"/>
<path d="M357.75,456.6V476.7M355.55,456.6h4.4M355.55,476.7h4.4" stroke="#333" stroke-width="0.6" fill="none"/>
<path d="M371.2,472.8V487.3M369,472.8h4.4M369,487.3h4.4" stroke="#333" stroke-width="0.6" fill="none"/>
<path d="M315.8,487.6V485.3H330.6V487.6M323.2,485.3v-1" stroke="#222" stroke-width="0.8" fill="none"/>
<text x="323.4" y="480.9" font-size="7.6" text-anchor="middle" font-weight="bold" font-style="normal" fill="#111" letter-spacing="0.4" stroke="#111" stroke-width="0.22">***</text>
<path d="M329.1,468.3V466H343.6V468.3M336.35,466v-1" stroke="#222" stroke-width="0.8" fill="none"/>
<text x="336.55" y="461.6" font-size="7.6" text-anchor="middle" font-weight="bold" font-style="normal" fill="#111" letter-spacing="0.4" stroke="#111" stroke-width="0.22">**</text>
<rect x="100" y="539.2" width="3.7" height="3.7" fill="#0000ff"/>
<text x="108.1" y="543.6" font-size="8" text-anchor="start" font-weight="normal" font-style="normal" fill="#222" textLength="21.2" lengthAdjust="spacingAndGlyphs">0 min.</text>
<rect x="141.4" y="539.2" width="3.7" height="3.7" fill="#008000"/>
<text x="148" y="543.6" font-size="8" text-anchor="start" font-weight="normal" font-style="normal" fill="#222" textLength="26" lengthAdjust="spacingAndGlyphs">30 min.</text>
<rect x="185.6" y="539.2" width="3.7" height="3.7" fill="#ff0000"/>
<text x="193" y="543.6" font-size="8" text-anchor="start" font-weight="normal" font-style="normal" fill="#222" textLength="25.7" lengthAdjust="spacingAndGlyphs">60 min.</text>
<rect x="229.9" y="539.2" width="3.7" height="3.7" fill="#7030a0"/>
<text x="237.4" y="543.6" font-size="8" text-anchor="start" font-weight="normal" font-style="normal" fill="#222" textLength="25.7" lengthAdjust="spacingAndGlyphs">90 min.</text>
<rect x="276.1" y="539.2" width="3.7" height="3.7" fill="#ffc000"/>
<text x="282.8" y="543.6" font-size="8" text-anchor="start" font-weight="normal" font-style="normal" fill="#222" textLength="30.2" lengthAdjust="spacingAndGlyphs">120 min.</text>
</svg>
</body></html>
